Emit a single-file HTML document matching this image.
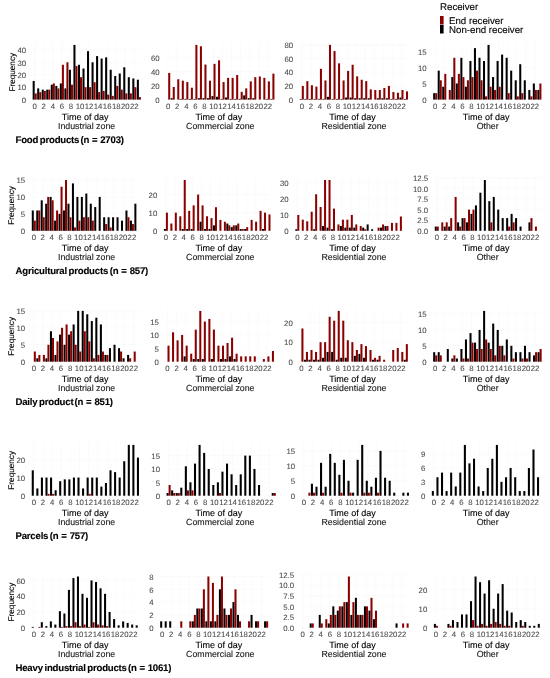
<!DOCTYPE html>
<html><head><meta charset="utf-8"><style>
html,body{margin:0;padding:0;background:#fff;}
svg{display:block;font-family:"Liberation Sans",sans-serif;will-change:transform;}
text{stroke-width:0.12px;text-rendering:geometricPrecision;}
text.tk{stroke-width:0.08px;}
</style></head><body>
<svg width="550" height="678" viewBox="0 0 550 678">
<rect width="550" height="678" fill="#fff"/>
<line x1="31.98" y1="99.60" x2="141.61" y2="99.60" stroke="#f6f6f6" stroke-width="0.5"/>
<line x1="31.98" y1="87.17" x2="141.61" y2="87.17" stroke="#f6f6f6" stroke-width="0.5"/>
<line x1="31.98" y1="74.74" x2="141.61" y2="74.74" stroke="#f6f6f6" stroke-width="0.5"/>
<line x1="31.98" y1="62.30" x2="141.61" y2="62.30" stroke="#f6f6f6" stroke-width="0.5"/>
<line x1="31.98" y1="49.87" x2="141.61" y2="49.87" stroke="#f6f6f6" stroke-width="0.5"/>
<line x1="34.70" y1="42.16" x2="34.70" y2="102.33" stroke="#f6f6f6" stroke-width="0.5"/>
<line x1="43.76" y1="42.16" x2="43.76" y2="102.33" stroke="#f6f6f6" stroke-width="0.5"/>
<line x1="52.82" y1="42.16" x2="52.82" y2="102.33" stroke="#f6f6f6" stroke-width="0.5"/>
<line x1="61.88" y1="42.16" x2="61.88" y2="102.33" stroke="#f6f6f6" stroke-width="0.5"/>
<line x1="70.94" y1="42.16" x2="70.94" y2="102.33" stroke="#f6f6f6" stroke-width="0.5"/>
<line x1="80.00" y1="42.16" x2="80.00" y2="102.33" stroke="#f6f6f6" stroke-width="0.5"/>
<line x1="89.06" y1="42.16" x2="89.06" y2="102.33" stroke="#f6f6f6" stroke-width="0.5"/>
<line x1="98.12" y1="42.16" x2="98.12" y2="102.33" stroke="#f6f6f6" stroke-width="0.5"/>
<line x1="107.18" y1="42.16" x2="107.18" y2="102.33" stroke="#f6f6f6" stroke-width="0.5"/>
<line x1="116.24" y1="42.16" x2="116.24" y2="102.33" stroke="#f6f6f6" stroke-width="0.5"/>
<line x1="125.30" y1="42.16" x2="125.30" y2="102.33" stroke="#f6f6f6" stroke-width="0.5"/>
<line x1="134.36" y1="42.16" x2="134.36" y2="102.33" stroke="#f6f6f6" stroke-width="0.5"/>
<rect x="32.66" y="80.95" width="2.04" height="18.65" fill="#000000"/>
<rect x="34.70" y="93.38" width="2.04" height="6.22" fill="#8b0000"/>
<rect x="37.19" y="88.41" width="2.04" height="11.19" fill="#000000"/>
<rect x="39.23" y="92.14" width="2.04" height="7.46" fill="#8b0000"/>
<rect x="41.72" y="89.65" width="2.04" height="9.95" fill="#000000"/>
<rect x="43.76" y="90.90" width="2.04" height="8.70" fill="#8b0000"/>
<rect x="46.25" y="89.65" width="2.04" height="9.95" fill="#000000"/>
<rect x="48.29" y="89.65" width="2.04" height="9.95" fill="#8b0000"/>
<rect x="50.78" y="84.68" width="2.04" height="14.92" fill="#000000"/>
<rect x="52.82" y="83.44" width="2.04" height="16.16" fill="#8b0000"/>
<rect x="55.31" y="85.92" width="2.04" height="13.68" fill="#000000"/>
<rect x="57.35" y="88.41" width="2.04" height="11.19" fill="#8b0000"/>
<rect x="59.84" y="83.44" width="2.04" height="16.16" fill="#000000"/>
<rect x="61.88" y="64.79" width="2.04" height="34.81" fill="#8b0000"/>
<rect x="64.37" y="88.41" width="2.04" height="11.19" fill="#000000"/>
<rect x="66.41" y="62.30" width="2.04" height="37.30" fill="#8b0000"/>
<rect x="68.90" y="69.76" width="2.04" height="29.84" fill="#000000"/>
<rect x="70.94" y="84.68" width="2.04" height="14.92" fill="#8b0000"/>
<rect x="73.43" y="44.90" width="2.04" height="54.70" fill="#000000"/>
<rect x="75.47" y="66.03" width="2.04" height="33.57" fill="#8b0000"/>
<rect x="77.96" y="64.79" width="2.04" height="34.81" fill="#000000"/>
<rect x="80.00" y="77.22" width="2.04" height="22.38" fill="#8b0000"/>
<rect x="82.49" y="68.52" width="2.04" height="31.08" fill="#000000"/>
<rect x="84.53" y="87.17" width="2.04" height="12.43" fill="#8b0000"/>
<rect x="87.02" y="51.12" width="2.04" height="48.48" fill="#000000"/>
<rect x="89.06" y="87.17" width="2.04" height="12.43" fill="#8b0000"/>
<rect x="91.55" y="62.30" width="2.04" height="37.30" fill="#000000"/>
<rect x="93.59" y="82.20" width="2.04" height="17.40" fill="#8b0000"/>
<rect x="96.08" y="56.09" width="2.04" height="43.51" fill="#000000"/>
<rect x="98.12" y="92.14" width="2.04" height="7.46" fill="#8b0000"/>
<rect x="100.61" y="58.57" width="2.04" height="41.02" fill="#000000"/>
<rect x="102.65" y="90.90" width="2.04" height="8.70" fill="#8b0000"/>
<rect x="105.14" y="57.33" width="2.04" height="42.27" fill="#000000"/>
<rect x="107.18" y="94.63" width="2.04" height="4.97" fill="#8b0000"/>
<rect x="109.67" y="69.76" width="2.04" height="29.84" fill="#000000"/>
<rect x="111.71" y="95.87" width="2.04" height="3.73" fill="#8b0000"/>
<rect x="114.20" y="75.98" width="2.04" height="23.62" fill="#000000"/>
<rect x="116.24" y="85.92" width="2.04" height="13.68" fill="#8b0000"/>
<rect x="118.73" y="73.49" width="2.04" height="26.11" fill="#000000"/>
<rect x="120.77" y="89.65" width="2.04" height="9.95" fill="#8b0000"/>
<rect x="123.26" y="67.28" width="2.04" height="32.32" fill="#000000"/>
<rect x="125.30" y="93.38" width="2.04" height="6.22" fill="#8b0000"/>
<rect x="127.79" y="77.22" width="2.04" height="22.38" fill="#000000"/>
<rect x="129.83" y="93.38" width="2.04" height="6.22" fill="#8b0000"/>
<rect x="132.32" y="78.47" width="2.04" height="21.13" fill="#000000"/>
<rect x="134.36" y="87.17" width="2.04" height="12.43" fill="#8b0000"/>
<rect x="136.85" y="79.71" width="2.04" height="19.89" fill="#000000"/>
<rect x="138.89" y="97.11" width="2.04" height="2.49" fill="#8b0000"/>
<text x="26.10" y="102.80" font-size="7.8" fill="#4d4d4d" stroke="#4d4d4d" text-anchor="end" class="tk">0</text>
<text x="26.10" y="90.37" font-size="7.8" fill="#4d4d4d" stroke="#4d4d4d" text-anchor="end" class="tk">10</text>
<text x="26.10" y="77.94" font-size="7.8" fill="#4d4d4d" stroke="#4d4d4d" text-anchor="end" class="tk">20</text>
<text x="26.10" y="65.50" font-size="7.8" fill="#4d4d4d" stroke="#4d4d4d" text-anchor="end" class="tk">30</text>
<text x="26.10" y="53.07" font-size="7.8" fill="#4d4d4d" stroke="#4d4d4d" text-anchor="end" class="tk">40</text>
<text x="34.70" y="108.60" font-size="7.8" fill="#4d4d4d" stroke="#4d4d4d" text-anchor="middle" class="tk">0</text>
<text x="43.76" y="108.60" font-size="7.8" fill="#4d4d4d" stroke="#4d4d4d" text-anchor="middle" class="tk">2</text>
<text x="52.82" y="108.60" font-size="7.8" fill="#4d4d4d" stroke="#4d4d4d" text-anchor="middle" class="tk">4</text>
<text x="61.88" y="108.60" font-size="7.8" fill="#4d4d4d" stroke="#4d4d4d" text-anchor="middle" class="tk">6</text>
<text x="70.94" y="108.60" font-size="7.8" fill="#4d4d4d" stroke="#4d4d4d" text-anchor="middle" class="tk">8</text>
<text x="80.00" y="108.60" font-size="7.8" fill="#4d4d4d" stroke="#4d4d4d" text-anchor="middle" class="tk">10</text>
<text x="89.06" y="108.60" font-size="7.8" fill="#4d4d4d" stroke="#4d4d4d" text-anchor="middle" class="tk">12</text>
<text x="98.12" y="108.60" font-size="7.8" fill="#4d4d4d" stroke="#4d4d4d" text-anchor="middle" class="tk">14</text>
<text x="107.18" y="108.60" font-size="7.8" fill="#4d4d4d" stroke="#4d4d4d" text-anchor="middle" class="tk">16</text>
<text x="116.24" y="108.60" font-size="7.8" fill="#4d4d4d" stroke="#4d4d4d" text-anchor="middle" class="tk">18</text>
<text x="125.30" y="108.60" font-size="7.8" fill="#4d4d4d" stroke="#4d4d4d" text-anchor="middle" class="tk">20</text>
<text x="134.36" y="108.60" font-size="7.8" fill="#4d4d4d" stroke="#4d4d4d" text-anchor="middle" class="tk">22</text>
<text x="85.10" y="119.50" font-size="9.0" fill="#000" stroke="#000" text-anchor="middle" >Time of day</text>
<text x="86.60" y="129.00" font-size="8.8" fill="#1a1a1a" stroke="#1a1a1a" text-anchor="middle" >Industrial zone</text>
<text x="0" y="0" font-size="8.2" fill="#000" stroke="#000" text-anchor="middle" transform="translate(14.80,72.25) rotate(-90)">Frequency</text>
<line x1="165.48" y1="99.60" x2="275.11" y2="99.60" stroke="#f6f6f6" stroke-width="0.5"/>
<line x1="165.48" y1="85.57" x2="275.11" y2="85.57" stroke="#f6f6f6" stroke-width="0.5"/>
<line x1="165.48" y1="71.55" x2="275.11" y2="71.55" stroke="#f6f6f6" stroke-width="0.5"/>
<line x1="165.48" y1="57.52" x2="275.11" y2="57.52" stroke="#f6f6f6" stroke-width="0.5"/>
<line x1="168.20" y1="42.16" x2="168.20" y2="102.33" stroke="#f6f6f6" stroke-width="0.5"/>
<line x1="177.26" y1="42.16" x2="177.26" y2="102.33" stroke="#f6f6f6" stroke-width="0.5"/>
<line x1="186.32" y1="42.16" x2="186.32" y2="102.33" stroke="#f6f6f6" stroke-width="0.5"/>
<line x1="195.38" y1="42.16" x2="195.38" y2="102.33" stroke="#f6f6f6" stroke-width="0.5"/>
<line x1="204.44" y1="42.16" x2="204.44" y2="102.33" stroke="#f6f6f6" stroke-width="0.5"/>
<line x1="213.50" y1="42.16" x2="213.50" y2="102.33" stroke="#f6f6f6" stroke-width="0.5"/>
<line x1="222.56" y1="42.16" x2="222.56" y2="102.33" stroke="#f6f6f6" stroke-width="0.5"/>
<line x1="231.62" y1="42.16" x2="231.62" y2="102.33" stroke="#f6f6f6" stroke-width="0.5"/>
<line x1="240.68" y1="42.16" x2="240.68" y2="102.33" stroke="#f6f6f6" stroke-width="0.5"/>
<line x1="249.74" y1="42.16" x2="249.74" y2="102.33" stroke="#f6f6f6" stroke-width="0.5"/>
<line x1="258.80" y1="42.16" x2="258.80" y2="102.33" stroke="#f6f6f6" stroke-width="0.5"/>
<line x1="267.86" y1="42.16" x2="267.86" y2="102.33" stroke="#f6f6f6" stroke-width="0.5"/>
<rect x="168.20" y="72.95" width="2.04" height="26.65" fill="#8b0000"/>
<rect x="170.69" y="98.20" width="2.04" height="1.40" fill="#000000"/>
<rect x="172.73" y="86.98" width="2.04" height="12.62" fill="#8b0000"/>
<rect x="177.26" y="79.26" width="2.04" height="20.34" fill="#8b0000"/>
<rect x="179.75" y="98.90" width="2.04" height="0.70" fill="#000000"/>
<rect x="181.79" y="80.67" width="2.04" height="18.93" fill="#8b0000"/>
<rect x="184.28" y="98.90" width="2.04" height="0.70" fill="#000000"/>
<rect x="186.32" y="82.07" width="2.04" height="17.53" fill="#8b0000"/>
<rect x="188.81" y="98.90" width="2.04" height="0.70" fill="#000000"/>
<rect x="190.85" y="87.68" width="2.04" height="11.92" fill="#8b0000"/>
<rect x="193.34" y="98.90" width="2.04" height="0.70" fill="#000000"/>
<rect x="195.38" y="44.90" width="2.04" height="54.70" fill="#8b0000"/>
<rect x="197.87" y="98.20" width="2.04" height="1.40" fill="#000000"/>
<rect x="199.91" y="46.30" width="2.04" height="53.30" fill="#8b0000"/>
<rect x="202.40" y="98.20" width="2.04" height="1.40" fill="#000000"/>
<rect x="204.44" y="64.54" width="2.04" height="35.06" fill="#8b0000"/>
<rect x="206.93" y="98.20" width="2.04" height="1.40" fill="#000000"/>
<rect x="208.97" y="80.67" width="2.04" height="18.93" fill="#8b0000"/>
<rect x="211.46" y="96.09" width="2.04" height="3.51" fill="#000000"/>
<rect x="213.50" y="63.83" width="2.04" height="35.77" fill="#8b0000"/>
<rect x="215.99" y="96.79" width="2.04" height="2.81" fill="#000000"/>
<rect x="218.03" y="60.33" width="2.04" height="39.27" fill="#8b0000"/>
<rect x="220.52" y="98.90" width="2.04" height="0.70" fill="#000000"/>
<rect x="222.56" y="82.07" width="2.04" height="17.53" fill="#8b0000"/>
<rect x="225.05" y="97.50" width="2.04" height="2.10" fill="#000000"/>
<rect x="227.09" y="77.86" width="2.04" height="21.74" fill="#8b0000"/>
<rect x="229.58" y="98.90" width="2.04" height="0.70" fill="#000000"/>
<rect x="231.62" y="77.86" width="2.04" height="21.74" fill="#8b0000"/>
<rect x="234.11" y="98.90" width="2.04" height="0.70" fill="#000000"/>
<rect x="236.15" y="75.06" width="2.04" height="24.54" fill="#8b0000"/>
<rect x="238.64" y="98.90" width="2.04" height="0.70" fill="#000000"/>
<rect x="240.68" y="91.89" width="2.04" height="7.71" fill="#8b0000"/>
<rect x="243.17" y="95.39" width="2.04" height="4.21" fill="#000000"/>
<rect x="245.21" y="88.38" width="2.04" height="11.22" fill="#8b0000"/>
<rect x="247.70" y="98.20" width="2.04" height="1.40" fill="#000000"/>
<rect x="249.74" y="81.37" width="2.04" height="18.23" fill="#8b0000"/>
<rect x="252.23" y="98.20" width="2.04" height="1.40" fill="#000000"/>
<rect x="254.27" y="77.16" width="2.04" height="22.44" fill="#8b0000"/>
<rect x="258.80" y="76.46" width="2.04" height="23.14" fill="#8b0000"/>
<rect x="263.33" y="77.86" width="2.04" height="21.74" fill="#8b0000"/>
<rect x="265.82" y="98.90" width="2.04" height="0.70" fill="#000000"/>
<rect x="267.86" y="81.37" width="2.04" height="18.23" fill="#8b0000"/>
<rect x="270.35" y="98.90" width="2.04" height="0.70" fill="#000000"/>
<rect x="272.39" y="73.65" width="2.04" height="25.95" fill="#8b0000"/>
<text x="159.60" y="102.80" font-size="7.8" fill="#4d4d4d" stroke="#4d4d4d" text-anchor="end" class="tk">0</text>
<text x="159.60" y="88.77" font-size="7.8" fill="#4d4d4d" stroke="#4d4d4d" text-anchor="end" class="tk">20</text>
<text x="159.60" y="74.75" font-size="7.8" fill="#4d4d4d" stroke="#4d4d4d" text-anchor="end" class="tk">40</text>
<text x="159.60" y="60.72" font-size="7.8" fill="#4d4d4d" stroke="#4d4d4d" text-anchor="end" class="tk">60</text>
<text x="168.20" y="108.60" font-size="7.8" fill="#4d4d4d" stroke="#4d4d4d" text-anchor="middle" class="tk">0</text>
<text x="177.26" y="108.60" font-size="7.8" fill="#4d4d4d" stroke="#4d4d4d" text-anchor="middle" class="tk">2</text>
<text x="186.32" y="108.60" font-size="7.8" fill="#4d4d4d" stroke="#4d4d4d" text-anchor="middle" class="tk">4</text>
<text x="195.38" y="108.60" font-size="7.8" fill="#4d4d4d" stroke="#4d4d4d" text-anchor="middle" class="tk">6</text>
<text x="204.44" y="108.60" font-size="7.8" fill="#4d4d4d" stroke="#4d4d4d" text-anchor="middle" class="tk">8</text>
<text x="213.50" y="108.60" font-size="7.8" fill="#4d4d4d" stroke="#4d4d4d" text-anchor="middle" class="tk">10</text>
<text x="222.56" y="108.60" font-size="7.8" fill="#4d4d4d" stroke="#4d4d4d" text-anchor="middle" class="tk">12</text>
<text x="231.62" y="108.60" font-size="7.8" fill="#4d4d4d" stroke="#4d4d4d" text-anchor="middle" class="tk">14</text>
<text x="240.68" y="108.60" font-size="7.8" fill="#4d4d4d" stroke="#4d4d4d" text-anchor="middle" class="tk">16</text>
<text x="249.74" y="108.60" font-size="7.8" fill="#4d4d4d" stroke="#4d4d4d" text-anchor="middle" class="tk">18</text>
<text x="258.80" y="108.60" font-size="7.8" fill="#4d4d4d" stroke="#4d4d4d" text-anchor="middle" class="tk">20</text>
<text x="267.86" y="108.60" font-size="7.8" fill="#4d4d4d" stroke="#4d4d4d" text-anchor="middle" class="tk">22</text>
<text x="218.80" y="119.50" font-size="9.0" fill="#000" stroke="#000" text-anchor="middle" >Time of day</text>
<text x="220.30" y="129.00" font-size="8.8" fill="#1a1a1a" stroke="#1a1a1a" text-anchor="middle" >Commercial zone</text>
<line x1="299.08" y1="99.60" x2="408.71" y2="99.60" stroke="#f6f6f6" stroke-width="0.5"/>
<line x1="299.08" y1="85.92" x2="408.71" y2="85.92" stroke="#f6f6f6" stroke-width="0.5"/>
<line x1="299.08" y1="72.25" x2="408.71" y2="72.25" stroke="#f6f6f6" stroke-width="0.5"/>
<line x1="299.08" y1="58.57" x2="408.71" y2="58.57" stroke="#f6f6f6" stroke-width="0.5"/>
<line x1="299.08" y1="44.90" x2="408.71" y2="44.90" stroke="#f6f6f6" stroke-width="0.5"/>
<line x1="301.80" y1="42.16" x2="301.80" y2="102.33" stroke="#f6f6f6" stroke-width="0.5"/>
<line x1="310.86" y1="42.16" x2="310.86" y2="102.33" stroke="#f6f6f6" stroke-width="0.5"/>
<line x1="319.92" y1="42.16" x2="319.92" y2="102.33" stroke="#f6f6f6" stroke-width="0.5"/>
<line x1="328.98" y1="42.16" x2="328.98" y2="102.33" stroke="#f6f6f6" stroke-width="0.5"/>
<line x1="338.04" y1="42.16" x2="338.04" y2="102.33" stroke="#f6f6f6" stroke-width="0.5"/>
<line x1="347.10" y1="42.16" x2="347.10" y2="102.33" stroke="#f6f6f6" stroke-width="0.5"/>
<line x1="356.16" y1="42.16" x2="356.16" y2="102.33" stroke="#f6f6f6" stroke-width="0.5"/>
<line x1="365.22" y1="42.16" x2="365.22" y2="102.33" stroke="#f6f6f6" stroke-width="0.5"/>
<line x1="374.28" y1="42.16" x2="374.28" y2="102.33" stroke="#f6f6f6" stroke-width="0.5"/>
<line x1="383.34" y1="42.16" x2="383.34" y2="102.33" stroke="#f6f6f6" stroke-width="0.5"/>
<line x1="392.40" y1="42.16" x2="392.40" y2="102.33" stroke="#f6f6f6" stroke-width="0.5"/>
<line x1="401.46" y1="42.16" x2="401.46" y2="102.33" stroke="#f6f6f6" stroke-width="0.5"/>
<rect x="299.76" y="98.92" width="2.04" height="0.68" fill="#000000"/>
<rect x="301.80" y="85.92" width="2.04" height="13.68" fill="#8b0000"/>
<rect x="304.29" y="98.92" width="2.04" height="0.68" fill="#000000"/>
<rect x="306.33" y="81.14" width="2.04" height="18.46" fill="#8b0000"/>
<rect x="308.82" y="98.92" width="2.04" height="0.68" fill="#000000"/>
<rect x="310.86" y="85.24" width="2.04" height="14.36" fill="#8b0000"/>
<rect x="313.35" y="98.92" width="2.04" height="0.68" fill="#000000"/>
<rect x="315.39" y="86.61" width="2.04" height="12.99" fill="#8b0000"/>
<rect x="317.88" y="98.92" width="2.04" height="0.68" fill="#000000"/>
<rect x="319.92" y="68.83" width="2.04" height="30.77" fill="#8b0000"/>
<rect x="322.41" y="98.92" width="2.04" height="0.68" fill="#000000"/>
<rect x="324.45" y="80.45" width="2.04" height="19.15" fill="#8b0000"/>
<rect x="326.94" y="96.86" width="2.04" height="2.74" fill="#000000"/>
<rect x="328.98" y="44.90" width="2.04" height="54.70" fill="#8b0000"/>
<rect x="331.47" y="98.92" width="2.04" height="0.68" fill="#000000"/>
<rect x="333.51" y="51.05" width="2.04" height="48.55" fill="#8b0000"/>
<rect x="336.00" y="98.92" width="2.04" height="0.68" fill="#000000"/>
<rect x="338.04" y="63.36" width="2.04" height="36.24" fill="#8b0000"/>
<rect x="340.53" y="98.92" width="2.04" height="0.68" fill="#000000"/>
<rect x="342.57" y="80.45" width="2.04" height="19.15" fill="#8b0000"/>
<rect x="345.06" y="97.55" width="2.04" height="2.05" fill="#000000"/>
<rect x="347.10" y="70.88" width="2.04" height="28.72" fill="#8b0000"/>
<rect x="349.59" y="97.55" width="2.04" height="2.05" fill="#000000"/>
<rect x="351.63" y="64.73" width="2.04" height="34.87" fill="#8b0000"/>
<rect x="354.12" y="98.23" width="2.04" height="1.37" fill="#000000"/>
<rect x="356.16" y="76.35" width="2.04" height="23.25" fill="#8b0000"/>
<rect x="358.65" y="98.23" width="2.04" height="1.37" fill="#000000"/>
<rect x="360.69" y="79.77" width="2.04" height="19.83" fill="#8b0000"/>
<rect x="363.18" y="98.23" width="2.04" height="1.37" fill="#000000"/>
<rect x="365.22" y="81.14" width="2.04" height="18.46" fill="#8b0000"/>
<rect x="367.71" y="98.23" width="2.04" height="1.37" fill="#000000"/>
<rect x="369.75" y="89.34" width="2.04" height="10.26" fill="#8b0000"/>
<rect x="374.28" y="90.03" width="2.04" height="9.57" fill="#8b0000"/>
<rect x="376.77" y="98.23" width="2.04" height="1.37" fill="#000000"/>
<rect x="378.81" y="90.03" width="2.04" height="9.57" fill="#8b0000"/>
<rect x="381.30" y="98.23" width="2.04" height="1.37" fill="#000000"/>
<rect x="383.34" y="87.98" width="2.04" height="11.62" fill="#8b0000"/>
<rect x="385.83" y="98.23" width="2.04" height="1.37" fill="#000000"/>
<rect x="387.87" y="85.92" width="2.04" height="13.68" fill="#8b0000"/>
<rect x="390.36" y="98.92" width="2.04" height="0.68" fill="#000000"/>
<rect x="392.40" y="92.08" width="2.04" height="7.52" fill="#8b0000"/>
<rect x="394.89" y="98.92" width="2.04" height="0.68" fill="#000000"/>
<rect x="396.93" y="92.76" width="2.04" height="6.84" fill="#8b0000"/>
<rect x="399.42" y="97.55" width="2.04" height="2.05" fill="#000000"/>
<rect x="401.46" y="90.03" width="2.04" height="9.57" fill="#8b0000"/>
<rect x="403.95" y="98.92" width="2.04" height="0.68" fill="#000000"/>
<rect x="405.99" y="91.39" width="2.04" height="8.21" fill="#8b0000"/>
<text x="293.20" y="102.80" font-size="7.8" fill="#4d4d4d" stroke="#4d4d4d" text-anchor="end" class="tk">0</text>
<text x="293.20" y="89.12" font-size="7.8" fill="#4d4d4d" stroke="#4d4d4d" text-anchor="end" class="tk">20</text>
<text x="293.20" y="75.45" font-size="7.8" fill="#4d4d4d" stroke="#4d4d4d" text-anchor="end" class="tk">40</text>
<text x="293.20" y="61.77" font-size="7.8" fill="#4d4d4d" stroke="#4d4d4d" text-anchor="end" class="tk">60</text>
<text x="293.20" y="48.10" font-size="7.8" fill="#4d4d4d" stroke="#4d4d4d" text-anchor="end" class="tk">80</text>
<text x="301.80" y="108.60" font-size="7.8" fill="#4d4d4d" stroke="#4d4d4d" text-anchor="middle" class="tk">0</text>
<text x="310.86" y="108.60" font-size="7.8" fill="#4d4d4d" stroke="#4d4d4d" text-anchor="middle" class="tk">2</text>
<text x="319.92" y="108.60" font-size="7.8" fill="#4d4d4d" stroke="#4d4d4d" text-anchor="middle" class="tk">4</text>
<text x="328.98" y="108.60" font-size="7.8" fill="#4d4d4d" stroke="#4d4d4d" text-anchor="middle" class="tk">6</text>
<text x="338.04" y="108.60" font-size="7.8" fill="#4d4d4d" stroke="#4d4d4d" text-anchor="middle" class="tk">8</text>
<text x="347.10" y="108.60" font-size="7.8" fill="#4d4d4d" stroke="#4d4d4d" text-anchor="middle" class="tk">10</text>
<text x="356.16" y="108.60" font-size="7.8" fill="#4d4d4d" stroke="#4d4d4d" text-anchor="middle" class="tk">12</text>
<text x="365.22" y="108.60" font-size="7.8" fill="#4d4d4d" stroke="#4d4d4d" text-anchor="middle" class="tk">14</text>
<text x="374.28" y="108.60" font-size="7.8" fill="#4d4d4d" stroke="#4d4d4d" text-anchor="middle" class="tk">16</text>
<text x="383.34" y="108.60" font-size="7.8" fill="#4d4d4d" stroke="#4d4d4d" text-anchor="middle" class="tk">18</text>
<text x="392.40" y="108.60" font-size="7.8" fill="#4d4d4d" stroke="#4d4d4d" text-anchor="middle" class="tk">20</text>
<text x="401.46" y="108.60" font-size="7.8" fill="#4d4d4d" stroke="#4d4d4d" text-anchor="middle" class="tk">22</text>
<text x="352.50" y="119.50" font-size="9.0" fill="#000" stroke="#000" text-anchor="middle" >Time of day</text>
<text x="354.00" y="129.00" font-size="8.8" fill="#1a1a1a" stroke="#1a1a1a" text-anchor="middle" >Residential zone</text>
<line x1="432.48" y1="99.60" x2="542.11" y2="99.60" stroke="#f6f6f6" stroke-width="0.5"/>
<line x1="432.48" y1="83.51" x2="542.11" y2="83.51" stroke="#f6f6f6" stroke-width="0.5"/>
<line x1="432.48" y1="67.42" x2="542.11" y2="67.42" stroke="#f6f6f6" stroke-width="0.5"/>
<line x1="432.48" y1="51.34" x2="542.11" y2="51.34" stroke="#f6f6f6" stroke-width="0.5"/>
<line x1="435.20" y1="42.16" x2="435.20" y2="102.33" stroke="#f6f6f6" stroke-width="0.5"/>
<line x1="444.26" y1="42.16" x2="444.26" y2="102.33" stroke="#f6f6f6" stroke-width="0.5"/>
<line x1="453.32" y1="42.16" x2="453.32" y2="102.33" stroke="#f6f6f6" stroke-width="0.5"/>
<line x1="462.38" y1="42.16" x2="462.38" y2="102.33" stroke="#f6f6f6" stroke-width="0.5"/>
<line x1="471.44" y1="42.16" x2="471.44" y2="102.33" stroke="#f6f6f6" stroke-width="0.5"/>
<line x1="480.50" y1="42.16" x2="480.50" y2="102.33" stroke="#f6f6f6" stroke-width="0.5"/>
<line x1="489.56" y1="42.16" x2="489.56" y2="102.33" stroke="#f6f6f6" stroke-width="0.5"/>
<line x1="498.62" y1="42.16" x2="498.62" y2="102.33" stroke="#f6f6f6" stroke-width="0.5"/>
<line x1="507.68" y1="42.16" x2="507.68" y2="102.33" stroke="#f6f6f6" stroke-width="0.5"/>
<line x1="516.74" y1="42.16" x2="516.74" y2="102.33" stroke="#f6f6f6" stroke-width="0.5"/>
<line x1="525.80" y1="42.16" x2="525.80" y2="102.33" stroke="#f6f6f6" stroke-width="0.5"/>
<line x1="534.86" y1="42.16" x2="534.86" y2="102.33" stroke="#f6f6f6" stroke-width="0.5"/>
<rect x="433.16" y="93.16" width="2.04" height="6.44" fill="#000000"/>
<rect x="435.20" y="93.16" width="2.04" height="6.44" fill="#8b0000"/>
<rect x="437.69" y="70.64" width="2.04" height="28.96" fill="#000000"/>
<rect x="439.73" y="80.29" width="2.04" height="19.31" fill="#8b0000"/>
<rect x="442.22" y="86.73" width="2.04" height="12.87" fill="#000000"/>
<rect x="444.26" y="73.86" width="2.04" height="25.74" fill="#8b0000"/>
<rect x="448.79" y="89.95" width="2.04" height="9.65" fill="#8b0000"/>
<rect x="451.28" y="77.08" width="2.04" height="22.52" fill="#000000"/>
<rect x="453.32" y="57.77" width="2.04" height="41.83" fill="#8b0000"/>
<rect x="455.81" y="83.51" width="2.04" height="16.09" fill="#000000"/>
<rect x="457.85" y="73.86" width="2.04" height="25.74" fill="#8b0000"/>
<rect x="460.34" y="57.77" width="2.04" height="41.83" fill="#000000"/>
<rect x="462.38" y="77.08" width="2.04" height="22.52" fill="#8b0000"/>
<rect x="464.87" y="86.73" width="2.04" height="12.87" fill="#000000"/>
<rect x="466.91" y="80.29" width="2.04" height="19.31" fill="#8b0000"/>
<rect x="469.40" y="60.99" width="2.04" height="38.61" fill="#000000"/>
<rect x="471.44" y="77.08" width="2.04" height="22.52" fill="#8b0000"/>
<rect x="473.93" y="48.12" width="2.04" height="51.48" fill="#000000"/>
<rect x="475.97" y="70.64" width="2.04" height="28.96" fill="#8b0000"/>
<rect x="478.46" y="57.77" width="2.04" height="41.83" fill="#000000"/>
<rect x="480.50" y="80.29" width="2.04" height="19.31" fill="#8b0000"/>
<rect x="482.99" y="60.99" width="2.04" height="38.61" fill="#000000"/>
<rect x="485.03" y="96.38" width="2.04" height="3.22" fill="#8b0000"/>
<rect x="487.52" y="44.90" width="2.04" height="54.70" fill="#000000"/>
<rect x="489.56" y="86.73" width="2.04" height="12.87" fill="#8b0000"/>
<rect x="492.05" y="77.08" width="2.04" height="22.52" fill="#000000"/>
<rect x="494.09" y="89.95" width="2.04" height="9.65" fill="#8b0000"/>
<rect x="496.58" y="60.99" width="2.04" height="38.61" fill="#000000"/>
<rect x="498.62" y="86.73" width="2.04" height="12.87" fill="#8b0000"/>
<rect x="501.11" y="54.55" width="2.04" height="45.05" fill="#000000"/>
<rect x="505.64" y="57.77" width="2.04" height="41.83" fill="#000000"/>
<rect x="507.68" y="93.16" width="2.04" height="6.44" fill="#8b0000"/>
<rect x="510.17" y="70.64" width="2.04" height="28.96" fill="#000000"/>
<rect x="514.70" y="80.29" width="2.04" height="19.31" fill="#000000"/>
<rect x="516.74" y="96.38" width="2.04" height="3.22" fill="#8b0000"/>
<rect x="519.23" y="64.21" width="2.04" height="35.39" fill="#000000"/>
<rect x="521.27" y="93.16" width="2.04" height="6.44" fill="#8b0000"/>
<rect x="523.76" y="80.29" width="2.04" height="19.31" fill="#000000"/>
<rect x="528.29" y="89.95" width="2.04" height="9.65" fill="#000000"/>
<rect x="530.33" y="96.38" width="2.04" height="3.22" fill="#8b0000"/>
<rect x="532.82" y="83.51" width="2.04" height="16.09" fill="#000000"/>
<rect x="534.86" y="89.95" width="2.04" height="9.65" fill="#8b0000"/>
<rect x="537.35" y="89.95" width="2.04" height="9.65" fill="#000000"/>
<rect x="539.39" y="83.51" width="2.04" height="16.09" fill="#8b0000"/>
<text x="426.60" y="102.80" font-size="7.8" fill="#4d4d4d" stroke="#4d4d4d" text-anchor="end" class="tk">0</text>
<text x="426.60" y="86.71" font-size="7.8" fill="#4d4d4d" stroke="#4d4d4d" text-anchor="end" class="tk">5</text>
<text x="426.60" y="70.62" font-size="7.8" fill="#4d4d4d" stroke="#4d4d4d" text-anchor="end" class="tk">10</text>
<text x="426.60" y="54.54" font-size="7.8" fill="#4d4d4d" stroke="#4d4d4d" text-anchor="end" class="tk">15</text>
<text x="435.20" y="108.60" font-size="7.8" fill="#4d4d4d" stroke="#4d4d4d" text-anchor="middle" class="tk">0</text>
<text x="444.26" y="108.60" font-size="7.8" fill="#4d4d4d" stroke="#4d4d4d" text-anchor="middle" class="tk">2</text>
<text x="453.32" y="108.60" font-size="7.8" fill="#4d4d4d" stroke="#4d4d4d" text-anchor="middle" class="tk">4</text>
<text x="462.38" y="108.60" font-size="7.8" fill="#4d4d4d" stroke="#4d4d4d" text-anchor="middle" class="tk">6</text>
<text x="471.44" y="108.60" font-size="7.8" fill="#4d4d4d" stroke="#4d4d4d" text-anchor="middle" class="tk">8</text>
<text x="480.50" y="108.60" font-size="7.8" fill="#4d4d4d" stroke="#4d4d4d" text-anchor="middle" class="tk">10</text>
<text x="489.56" y="108.60" font-size="7.8" fill="#4d4d4d" stroke="#4d4d4d" text-anchor="middle" class="tk">12</text>
<text x="498.62" y="108.60" font-size="7.8" fill="#4d4d4d" stroke="#4d4d4d" text-anchor="middle" class="tk">14</text>
<text x="507.68" y="108.60" font-size="7.8" fill="#4d4d4d" stroke="#4d4d4d" text-anchor="middle" class="tk">16</text>
<text x="516.74" y="108.60" font-size="7.8" fill="#4d4d4d" stroke="#4d4d4d" text-anchor="middle" class="tk">18</text>
<text x="525.80" y="108.60" font-size="7.8" fill="#4d4d4d" stroke="#4d4d4d" text-anchor="middle" class="tk">20</text>
<text x="534.86" y="108.60" font-size="7.8" fill="#4d4d4d" stroke="#4d4d4d" text-anchor="middle" class="tk">22</text>
<text x="486.20" y="119.50" font-size="9.0" fill="#000" stroke="#000" text-anchor="middle" >Time of day</text>
<text x="487.70" y="129.00" font-size="8.8" fill="#1a1a1a" stroke="#1a1a1a" text-anchor="middle" >Other</text>
<line x1="31.12" y1="230.80" x2="139.06" y2="230.80" stroke="#f6f6f6" stroke-width="0.5"/>
<line x1="31.12" y1="213.87" x2="139.06" y2="213.87" stroke="#f6f6f6" stroke-width="0.5"/>
<line x1="31.12" y1="196.93" x2="139.06" y2="196.93" stroke="#f6f6f6" stroke-width="0.5"/>
<line x1="31.12" y1="180.00" x2="139.06" y2="180.00" stroke="#f6f6f6" stroke-width="0.5"/>
<line x1="33.80" y1="177.46" x2="33.80" y2="233.34" stroke="#f6f6f6" stroke-width="0.5"/>
<line x1="42.72" y1="177.46" x2="42.72" y2="233.34" stroke="#f6f6f6" stroke-width="0.5"/>
<line x1="51.64" y1="177.46" x2="51.64" y2="233.34" stroke="#f6f6f6" stroke-width="0.5"/>
<line x1="60.56" y1="177.46" x2="60.56" y2="233.34" stroke="#f6f6f6" stroke-width="0.5"/>
<line x1="69.48" y1="177.46" x2="69.48" y2="233.34" stroke="#f6f6f6" stroke-width="0.5"/>
<line x1="78.40" y1="177.46" x2="78.40" y2="233.34" stroke="#f6f6f6" stroke-width="0.5"/>
<line x1="87.32" y1="177.46" x2="87.32" y2="233.34" stroke="#f6f6f6" stroke-width="0.5"/>
<line x1="96.24" y1="177.46" x2="96.24" y2="233.34" stroke="#f6f6f6" stroke-width="0.5"/>
<line x1="105.16" y1="177.46" x2="105.16" y2="233.34" stroke="#f6f6f6" stroke-width="0.5"/>
<line x1="114.08" y1="177.46" x2="114.08" y2="233.34" stroke="#f6f6f6" stroke-width="0.5"/>
<line x1="123.00" y1="177.46" x2="123.00" y2="233.34" stroke="#f6f6f6" stroke-width="0.5"/>
<line x1="131.92" y1="177.46" x2="131.92" y2="233.34" stroke="#f6f6f6" stroke-width="0.5"/>
<rect x="31.79" y="210.48" width="2.01" height="20.32" fill="#000000"/>
<rect x="33.80" y="220.64" width="2.01" height="10.16" fill="#8b0000"/>
<rect x="36.25" y="210.48" width="2.01" height="20.32" fill="#000000"/>
<rect x="38.26" y="210.48" width="2.01" height="20.32" fill="#8b0000"/>
<rect x="40.71" y="200.32" width="2.01" height="30.48" fill="#000000"/>
<rect x="42.72" y="217.25" width="2.01" height="13.55" fill="#8b0000"/>
<rect x="45.17" y="203.71" width="2.01" height="27.09" fill="#000000"/>
<rect x="47.18" y="196.93" width="2.01" height="33.87" fill="#8b0000"/>
<rect x="49.63" y="196.93" width="2.01" height="33.87" fill="#000000"/>
<rect x="51.64" y="200.32" width="2.01" height="30.48" fill="#8b0000"/>
<rect x="54.09" y="220.64" width="2.01" height="10.16" fill="#000000"/>
<rect x="56.10" y="210.48" width="2.01" height="20.32" fill="#8b0000"/>
<rect x="58.55" y="213.87" width="2.01" height="16.93" fill="#000000"/>
<rect x="60.56" y="186.77" width="2.01" height="44.03" fill="#8b0000"/>
<rect x="63.01" y="210.48" width="2.01" height="20.32" fill="#000000"/>
<rect x="65.02" y="180.00" width="2.01" height="50.80" fill="#8b0000"/>
<rect x="67.47" y="203.71" width="2.01" height="27.09" fill="#000000"/>
<rect x="69.48" y="217.25" width="2.01" height="13.55" fill="#8b0000"/>
<rect x="71.93" y="183.39" width="2.01" height="47.41" fill="#000000"/>
<rect x="73.94" y="227.41" width="2.01" height="3.39" fill="#8b0000"/>
<rect x="76.39" y="196.93" width="2.01" height="33.87" fill="#000000"/>
<rect x="78.40" y="220.64" width="2.01" height="10.16" fill="#8b0000"/>
<rect x="80.85" y="196.93" width="2.01" height="33.87" fill="#000000"/>
<rect x="82.86" y="217.25" width="2.01" height="13.55" fill="#8b0000"/>
<rect x="85.31" y="193.55" width="2.01" height="37.25" fill="#000000"/>
<rect x="87.32" y="217.25" width="2.01" height="13.55" fill="#8b0000"/>
<rect x="89.77" y="203.71" width="2.01" height="27.09" fill="#000000"/>
<rect x="91.78" y="220.64" width="2.01" height="10.16" fill="#8b0000"/>
<rect x="94.23" y="207.09" width="2.01" height="23.71" fill="#000000"/>
<rect x="98.69" y="196.93" width="2.01" height="33.87" fill="#000000"/>
<rect x="103.15" y="217.25" width="2.01" height="13.55" fill="#000000"/>
<rect x="105.16" y="224.03" width="2.01" height="6.77" fill="#8b0000"/>
<rect x="107.61" y="217.25" width="2.01" height="13.55" fill="#000000"/>
<rect x="109.62" y="227.41" width="2.01" height="3.39" fill="#8b0000"/>
<rect x="112.07" y="217.25" width="2.01" height="13.55" fill="#000000"/>
<rect x="116.53" y="217.25" width="2.01" height="13.55" fill="#000000"/>
<rect x="120.99" y="220.64" width="2.01" height="10.16" fill="#000000"/>
<rect x="125.45" y="210.48" width="2.01" height="20.32" fill="#000000"/>
<rect x="127.46" y="217.25" width="2.01" height="13.55" fill="#8b0000"/>
<rect x="129.91" y="220.64" width="2.01" height="10.16" fill="#000000"/>
<rect x="131.92" y="224.03" width="2.01" height="6.77" fill="#8b0000"/>
<rect x="134.37" y="203.71" width="2.01" height="27.09" fill="#000000"/>
<text x="25.20" y="234.00" font-size="7.8" fill="#4d4d4d" stroke="#4d4d4d" text-anchor="end" class="tk">0</text>
<text x="25.20" y="217.07" font-size="7.8" fill="#4d4d4d" stroke="#4d4d4d" text-anchor="end" class="tk">5</text>
<text x="25.20" y="200.13" font-size="7.8" fill="#4d4d4d" stroke="#4d4d4d" text-anchor="end" class="tk">10</text>
<text x="25.20" y="183.20" font-size="7.8" fill="#4d4d4d" stroke="#4d4d4d" text-anchor="end" class="tk">15</text>
<text x="33.80" y="239.80" font-size="7.8" fill="#4d4d4d" stroke="#4d4d4d" text-anchor="middle" class="tk">0</text>
<text x="42.72" y="239.80" font-size="7.8" fill="#4d4d4d" stroke="#4d4d4d" text-anchor="middle" class="tk">2</text>
<text x="51.64" y="239.80" font-size="7.8" fill="#4d4d4d" stroke="#4d4d4d" text-anchor="middle" class="tk">4</text>
<text x="60.56" y="239.80" font-size="7.8" fill="#4d4d4d" stroke="#4d4d4d" text-anchor="middle" class="tk">6</text>
<text x="69.48" y="239.80" font-size="7.8" fill="#4d4d4d" stroke="#4d4d4d" text-anchor="middle" class="tk">8</text>
<text x="78.40" y="239.80" font-size="7.8" fill="#4d4d4d" stroke="#4d4d4d" text-anchor="middle" class="tk">10</text>
<text x="87.32" y="239.80" font-size="7.8" fill="#4d4d4d" stroke="#4d4d4d" text-anchor="middle" class="tk">12</text>
<text x="96.24" y="239.80" font-size="7.8" fill="#4d4d4d" stroke="#4d4d4d" text-anchor="middle" class="tk">14</text>
<text x="105.16" y="239.80" font-size="7.8" fill="#4d4d4d" stroke="#4d4d4d" text-anchor="middle" class="tk">16</text>
<text x="114.08" y="239.80" font-size="7.8" fill="#4d4d4d" stroke="#4d4d4d" text-anchor="middle" class="tk">18</text>
<text x="123.00" y="239.80" font-size="7.8" fill="#4d4d4d" stroke="#4d4d4d" text-anchor="middle" class="tk">20</text>
<text x="131.92" y="239.80" font-size="7.8" fill="#4d4d4d" stroke="#4d4d4d" text-anchor="middle" class="tk">22</text>
<text x="85.10" y="250.70" font-size="9.0" fill="#000" stroke="#000" text-anchor="middle" >Time of day</text>
<text x="86.60" y="260.20" font-size="8.8" fill="#1a1a1a" stroke="#1a1a1a" text-anchor="middle" >Industrial zone</text>
<text x="0" y="0" font-size="8.2" fill="#000" stroke="#000" text-anchor="middle" transform="translate(13.90,205.40) rotate(-90)">Frequency</text>
<line x1="163.22" y1="230.80" x2="271.16" y2="230.80" stroke="#f6f6f6" stroke-width="0.5"/>
<line x1="163.22" y1="212.66" x2="271.16" y2="212.66" stroke="#f6f6f6" stroke-width="0.5"/>
<line x1="163.22" y1="194.51" x2="271.16" y2="194.51" stroke="#f6f6f6" stroke-width="0.5"/>
<line x1="165.90" y1="177.46" x2="165.90" y2="233.34" stroke="#f6f6f6" stroke-width="0.5"/>
<line x1="174.82" y1="177.46" x2="174.82" y2="233.34" stroke="#f6f6f6" stroke-width="0.5"/>
<line x1="183.74" y1="177.46" x2="183.74" y2="233.34" stroke="#f6f6f6" stroke-width="0.5"/>
<line x1="192.66" y1="177.46" x2="192.66" y2="233.34" stroke="#f6f6f6" stroke-width="0.5"/>
<line x1="201.58" y1="177.46" x2="201.58" y2="233.34" stroke="#f6f6f6" stroke-width="0.5"/>
<line x1="210.50" y1="177.46" x2="210.50" y2="233.34" stroke="#f6f6f6" stroke-width="0.5"/>
<line x1="219.42" y1="177.46" x2="219.42" y2="233.34" stroke="#f6f6f6" stroke-width="0.5"/>
<line x1="228.34" y1="177.46" x2="228.34" y2="233.34" stroke="#f6f6f6" stroke-width="0.5"/>
<line x1="237.26" y1="177.46" x2="237.26" y2="233.34" stroke="#f6f6f6" stroke-width="0.5"/>
<line x1="246.18" y1="177.46" x2="246.18" y2="233.34" stroke="#f6f6f6" stroke-width="0.5"/>
<line x1="255.10" y1="177.46" x2="255.10" y2="233.34" stroke="#f6f6f6" stroke-width="0.5"/>
<line x1="264.02" y1="177.46" x2="264.02" y2="233.34" stroke="#f6f6f6" stroke-width="0.5"/>
<rect x="163.89" y="228.99" width="2.01" height="1.81" fill="#000000"/>
<rect x="165.90" y="212.66" width="2.01" height="18.14" fill="#8b0000"/>
<rect x="170.36" y="223.54" width="2.01" height="7.26" fill="#8b0000"/>
<rect x="174.82" y="212.66" width="2.01" height="18.14" fill="#8b0000"/>
<rect x="179.28" y="216.29" width="2.01" height="14.51" fill="#8b0000"/>
<rect x="181.73" y="228.99" width="2.01" height="1.81" fill="#000000"/>
<rect x="183.74" y="180.00" width="2.01" height="50.80" fill="#8b0000"/>
<rect x="186.19" y="228.99" width="2.01" height="1.81" fill="#000000"/>
<rect x="188.20" y="210.84" width="2.01" height="19.96" fill="#8b0000"/>
<rect x="190.65" y="228.99" width="2.01" height="1.81" fill="#000000"/>
<rect x="192.66" y="205.40" width="2.01" height="25.40" fill="#8b0000"/>
<rect x="197.12" y="194.51" width="2.01" height="36.29" fill="#8b0000"/>
<rect x="199.57" y="221.73" width="2.01" height="9.07" fill="#000000"/>
<rect x="201.58" y="205.40" width="2.01" height="25.40" fill="#8b0000"/>
<rect x="204.03" y="228.99" width="2.01" height="1.81" fill="#000000"/>
<rect x="206.04" y="216.29" width="2.01" height="14.51" fill="#8b0000"/>
<rect x="208.49" y="228.99" width="2.01" height="1.81" fill="#000000"/>
<rect x="210.50" y="218.10" width="2.01" height="12.70" fill="#8b0000"/>
<rect x="212.95" y="225.36" width="2.01" height="5.44" fill="#000000"/>
<rect x="214.96" y="207.21" width="2.01" height="23.59" fill="#8b0000"/>
<rect x="219.42" y="219.91" width="2.01" height="10.89" fill="#8b0000"/>
<rect x="223.88" y="221.73" width="2.01" height="9.07" fill="#8b0000"/>
<rect x="226.33" y="223.54" width="2.01" height="7.26" fill="#000000"/>
<rect x="228.34" y="225.36" width="2.01" height="5.44" fill="#8b0000"/>
<rect x="230.79" y="227.17" width="2.01" height="3.63" fill="#000000"/>
<rect x="232.80" y="225.36" width="2.01" height="5.44" fill="#8b0000"/>
<rect x="235.25" y="225.36" width="2.01" height="5.44" fill="#000000"/>
<rect x="237.26" y="223.54" width="2.01" height="7.26" fill="#8b0000"/>
<rect x="239.71" y="228.99" width="2.01" height="1.81" fill="#000000"/>
<rect x="241.72" y="228.99" width="2.01" height="1.81" fill="#8b0000"/>
<rect x="244.17" y="228.99" width="2.01" height="1.81" fill="#000000"/>
<rect x="246.18" y="227.17" width="2.01" height="3.63" fill="#8b0000"/>
<rect x="250.64" y="219.91" width="2.01" height="10.89" fill="#8b0000"/>
<rect x="255.10" y="221.73" width="2.01" height="9.07" fill="#8b0000"/>
<rect x="259.56" y="210.84" width="2.01" height="19.96" fill="#8b0000"/>
<rect x="262.01" y="228.99" width="2.01" height="1.81" fill="#000000"/>
<rect x="264.02" y="212.66" width="2.01" height="18.14" fill="#8b0000"/>
<rect x="268.48" y="214.47" width="2.01" height="16.33" fill="#8b0000"/>
<text x="157.30" y="234.00" font-size="7.8" fill="#4d4d4d" stroke="#4d4d4d" text-anchor="end" class="tk">0</text>
<text x="157.30" y="215.86" font-size="7.8" fill="#4d4d4d" stroke="#4d4d4d" text-anchor="end" class="tk">10</text>
<text x="157.30" y="197.71" font-size="7.8" fill="#4d4d4d" stroke="#4d4d4d" text-anchor="end" class="tk">20</text>
<text x="165.90" y="239.80" font-size="7.8" fill="#4d4d4d" stroke="#4d4d4d" text-anchor="middle" class="tk">0</text>
<text x="174.82" y="239.80" font-size="7.8" fill="#4d4d4d" stroke="#4d4d4d" text-anchor="middle" class="tk">2</text>
<text x="183.74" y="239.80" font-size="7.8" fill="#4d4d4d" stroke="#4d4d4d" text-anchor="middle" class="tk">4</text>
<text x="192.66" y="239.80" font-size="7.8" fill="#4d4d4d" stroke="#4d4d4d" text-anchor="middle" class="tk">6</text>
<text x="201.58" y="239.80" font-size="7.8" fill="#4d4d4d" stroke="#4d4d4d" text-anchor="middle" class="tk">8</text>
<text x="210.50" y="239.80" font-size="7.8" fill="#4d4d4d" stroke="#4d4d4d" text-anchor="middle" class="tk">10</text>
<text x="219.42" y="239.80" font-size="7.8" fill="#4d4d4d" stroke="#4d4d4d" text-anchor="middle" class="tk">12</text>
<text x="228.34" y="239.80" font-size="7.8" fill="#4d4d4d" stroke="#4d4d4d" text-anchor="middle" class="tk">14</text>
<text x="237.26" y="239.80" font-size="7.8" fill="#4d4d4d" stroke="#4d4d4d" text-anchor="middle" class="tk">16</text>
<text x="246.18" y="239.80" font-size="7.8" fill="#4d4d4d" stroke="#4d4d4d" text-anchor="middle" class="tk">18</text>
<text x="255.10" y="239.80" font-size="7.8" fill="#4d4d4d" stroke="#4d4d4d" text-anchor="middle" class="tk">20</text>
<text x="264.02" y="239.80" font-size="7.8" fill="#4d4d4d" stroke="#4d4d4d" text-anchor="middle" class="tk">22</text>
<text x="218.80" y="250.70" font-size="9.0" fill="#000" stroke="#000" text-anchor="middle" >Time of day</text>
<text x="220.30" y="260.20" font-size="8.8" fill="#1a1a1a" stroke="#1a1a1a" text-anchor="middle" >Commercial zone</text>
<line x1="294.62" y1="230.80" x2="402.56" y2="230.80" stroke="#f6f6f6" stroke-width="0.5"/>
<line x1="294.62" y1="214.93" x2="402.56" y2="214.93" stroke="#f6f6f6" stroke-width="0.5"/>
<line x1="294.62" y1="199.05" x2="402.56" y2="199.05" stroke="#f6f6f6" stroke-width="0.5"/>
<line x1="294.62" y1="183.18" x2="402.56" y2="183.18" stroke="#f6f6f6" stroke-width="0.5"/>
<line x1="297.30" y1="177.46" x2="297.30" y2="233.34" stroke="#f6f6f6" stroke-width="0.5"/>
<line x1="306.22" y1="177.46" x2="306.22" y2="233.34" stroke="#f6f6f6" stroke-width="0.5"/>
<line x1="315.14" y1="177.46" x2="315.14" y2="233.34" stroke="#f6f6f6" stroke-width="0.5"/>
<line x1="324.06" y1="177.46" x2="324.06" y2="233.34" stroke="#f6f6f6" stroke-width="0.5"/>
<line x1="332.98" y1="177.46" x2="332.98" y2="233.34" stroke="#f6f6f6" stroke-width="0.5"/>
<line x1="341.90" y1="177.46" x2="341.90" y2="233.34" stroke="#f6f6f6" stroke-width="0.5"/>
<line x1="350.82" y1="177.46" x2="350.82" y2="233.34" stroke="#f6f6f6" stroke-width="0.5"/>
<line x1="359.74" y1="177.46" x2="359.74" y2="233.34" stroke="#f6f6f6" stroke-width="0.5"/>
<line x1="368.66" y1="177.46" x2="368.66" y2="233.34" stroke="#f6f6f6" stroke-width="0.5"/>
<line x1="377.58" y1="177.46" x2="377.58" y2="233.34" stroke="#f6f6f6" stroke-width="0.5"/>
<line x1="386.50" y1="177.46" x2="386.50" y2="233.34" stroke="#f6f6f6" stroke-width="0.5"/>
<line x1="395.42" y1="177.46" x2="395.42" y2="233.34" stroke="#f6f6f6" stroke-width="0.5"/>
<rect x="295.29" y="229.21" width="2.01" height="1.59" fill="#000000"/>
<rect x="297.30" y="214.93" width="2.01" height="15.88" fill="#8b0000"/>
<rect x="301.76" y="219.69" width="2.01" height="11.11" fill="#8b0000"/>
<rect x="306.22" y="221.28" width="2.01" height="9.52" fill="#8b0000"/>
<rect x="310.68" y="211.75" width="2.01" height="19.05" fill="#8b0000"/>
<rect x="313.13" y="229.21" width="2.01" height="1.59" fill="#000000"/>
<rect x="315.14" y="194.29" width="2.01" height="36.51" fill="#8b0000"/>
<rect x="319.60" y="206.99" width="2.01" height="23.81" fill="#8b0000"/>
<rect x="322.05" y="226.04" width="2.01" height="4.76" fill="#000000"/>
<rect x="324.06" y="180.00" width="2.01" height="50.80" fill="#8b0000"/>
<rect x="326.51" y="227.62" width="2.01" height="3.17" fill="#000000"/>
<rect x="328.52" y="180.00" width="2.01" height="50.80" fill="#8b0000"/>
<rect x="330.97" y="229.21" width="2.01" height="1.59" fill="#000000"/>
<rect x="332.98" y="208.58" width="2.01" height="22.22" fill="#8b0000"/>
<rect x="337.44" y="224.45" width="2.01" height="6.35" fill="#8b0000"/>
<rect x="339.89" y="226.04" width="2.01" height="4.76" fill="#000000"/>
<rect x="341.90" y="219.69" width="2.01" height="11.11" fill="#8b0000"/>
<rect x="344.35" y="227.62" width="2.01" height="3.17" fill="#000000"/>
<rect x="346.36" y="219.69" width="2.01" height="11.11" fill="#8b0000"/>
<rect x="348.81" y="227.62" width="2.01" height="3.17" fill="#000000"/>
<rect x="350.82" y="214.93" width="2.01" height="15.88" fill="#8b0000"/>
<rect x="353.27" y="227.62" width="2.01" height="3.17" fill="#000000"/>
<rect x="355.28" y="224.45" width="2.01" height="6.35" fill="#8b0000"/>
<rect x="359.74" y="226.04" width="2.01" height="4.76" fill="#8b0000"/>
<rect x="362.19" y="227.62" width="2.01" height="3.17" fill="#000000"/>
<rect x="364.20" y="229.21" width="2.01" height="1.59" fill="#8b0000"/>
<rect x="366.65" y="224.45" width="2.01" height="6.35" fill="#000000"/>
<rect x="371.11" y="229.21" width="2.01" height="1.59" fill="#000000"/>
<rect x="377.58" y="227.62" width="2.01" height="3.17" fill="#8b0000"/>
<rect x="380.03" y="227.62" width="2.01" height="3.17" fill="#000000"/>
<rect x="382.04" y="224.45" width="2.01" height="6.35" fill="#8b0000"/>
<rect x="384.49" y="226.04" width="2.01" height="4.76" fill="#000000"/>
<rect x="386.50" y="226.04" width="2.01" height="4.76" fill="#8b0000"/>
<rect x="390.96" y="222.86" width="2.01" height="7.94" fill="#8b0000"/>
<rect x="395.42" y="222.86" width="2.01" height="7.94" fill="#8b0000"/>
<rect x="399.88" y="216.51" width="2.01" height="14.29" fill="#8b0000"/>
<text x="288.70" y="234.00" font-size="7.8" fill="#4d4d4d" stroke="#4d4d4d" text-anchor="end" class="tk">0</text>
<text x="288.70" y="218.12" font-size="7.8" fill="#4d4d4d" stroke="#4d4d4d" text-anchor="end" class="tk">10</text>
<text x="288.70" y="202.25" font-size="7.8" fill="#4d4d4d" stroke="#4d4d4d" text-anchor="end" class="tk">20</text>
<text x="288.70" y="186.38" font-size="7.8" fill="#4d4d4d" stroke="#4d4d4d" text-anchor="end" class="tk">30</text>
<text x="297.30" y="239.80" font-size="7.8" fill="#4d4d4d" stroke="#4d4d4d" text-anchor="middle" class="tk">0</text>
<text x="306.22" y="239.80" font-size="7.8" fill="#4d4d4d" stroke="#4d4d4d" text-anchor="middle" class="tk">2</text>
<text x="315.14" y="239.80" font-size="7.8" fill="#4d4d4d" stroke="#4d4d4d" text-anchor="middle" class="tk">4</text>
<text x="324.06" y="239.80" font-size="7.8" fill="#4d4d4d" stroke="#4d4d4d" text-anchor="middle" class="tk">6</text>
<text x="332.98" y="239.80" font-size="7.8" fill="#4d4d4d" stroke="#4d4d4d" text-anchor="middle" class="tk">8</text>
<text x="341.90" y="239.80" font-size="7.8" fill="#4d4d4d" stroke="#4d4d4d" text-anchor="middle" class="tk">10</text>
<text x="350.82" y="239.80" font-size="7.8" fill="#4d4d4d" stroke="#4d4d4d" text-anchor="middle" class="tk">12</text>
<text x="359.74" y="239.80" font-size="7.8" fill="#4d4d4d" stroke="#4d4d4d" text-anchor="middle" class="tk">14</text>
<text x="368.66" y="239.80" font-size="7.8" fill="#4d4d4d" stroke="#4d4d4d" text-anchor="middle" class="tk">16</text>
<text x="377.58" y="239.80" font-size="7.8" fill="#4d4d4d" stroke="#4d4d4d" text-anchor="middle" class="tk">18</text>
<text x="386.50" y="239.80" font-size="7.8" fill="#4d4d4d" stroke="#4d4d4d" text-anchor="middle" class="tk">20</text>
<text x="395.42" y="239.80" font-size="7.8" fill="#4d4d4d" stroke="#4d4d4d" text-anchor="middle" class="tk">22</text>
<text x="352.50" y="250.70" font-size="9.0" fill="#000" stroke="#000" text-anchor="middle" >Time of day</text>
<text x="354.00" y="260.20" font-size="8.8" fill="#1a1a1a" stroke="#1a1a1a" text-anchor="middle" >Residential zone</text>
<line x1="434.12" y1="230.80" x2="542.06" y2="230.80" stroke="#f6f6f6" stroke-width="0.5"/>
<line x1="434.12" y1="220.22" x2="542.06" y2="220.22" stroke="#f6f6f6" stroke-width="0.5"/>
<line x1="434.12" y1="209.63" x2="542.06" y2="209.63" stroke="#f6f6f6" stroke-width="0.5"/>
<line x1="434.12" y1="199.05" x2="542.06" y2="199.05" stroke="#f6f6f6" stroke-width="0.5"/>
<line x1="434.12" y1="188.47" x2="542.06" y2="188.47" stroke="#f6f6f6" stroke-width="0.5"/>
<line x1="434.12" y1="177.88" x2="542.06" y2="177.88" stroke="#f6f6f6" stroke-width="0.5"/>
<line x1="436.80" y1="177.46" x2="436.80" y2="233.34" stroke="#f6f6f6" stroke-width="0.5"/>
<line x1="445.72" y1="177.46" x2="445.72" y2="233.34" stroke="#f6f6f6" stroke-width="0.5"/>
<line x1="454.64" y1="177.46" x2="454.64" y2="233.34" stroke="#f6f6f6" stroke-width="0.5"/>
<line x1="463.56" y1="177.46" x2="463.56" y2="233.34" stroke="#f6f6f6" stroke-width="0.5"/>
<line x1="472.48" y1="177.46" x2="472.48" y2="233.34" stroke="#f6f6f6" stroke-width="0.5"/>
<line x1="481.40" y1="177.46" x2="481.40" y2="233.34" stroke="#f6f6f6" stroke-width="0.5"/>
<line x1="490.32" y1="177.46" x2="490.32" y2="233.34" stroke="#f6f6f6" stroke-width="0.5"/>
<line x1="499.24" y1="177.46" x2="499.24" y2="233.34" stroke="#f6f6f6" stroke-width="0.5"/>
<line x1="508.16" y1="177.46" x2="508.16" y2="233.34" stroke="#f6f6f6" stroke-width="0.5"/>
<line x1="517.08" y1="177.46" x2="517.08" y2="233.34" stroke="#f6f6f6" stroke-width="0.5"/>
<line x1="526.00" y1="177.46" x2="526.00" y2="233.34" stroke="#f6f6f6" stroke-width="0.5"/>
<line x1="534.92" y1="177.46" x2="534.92" y2="233.34" stroke="#f6f6f6" stroke-width="0.5"/>
<rect x="434.79" y="226.57" width="2.01" height="4.23" fill="#000000"/>
<rect x="436.80" y="226.57" width="2.01" height="4.23" fill="#8b0000"/>
<rect x="441.26" y="222.33" width="2.01" height="8.47" fill="#8b0000"/>
<rect x="443.71" y="226.57" width="2.01" height="4.23" fill="#000000"/>
<rect x="445.72" y="222.33" width="2.01" height="8.47" fill="#8b0000"/>
<rect x="448.17" y="226.57" width="2.01" height="4.23" fill="#000000"/>
<rect x="450.18" y="218.10" width="2.01" height="12.70" fill="#8b0000"/>
<rect x="454.64" y="196.93" width="2.01" height="33.87" fill="#8b0000"/>
<rect x="457.09" y="222.33" width="2.01" height="8.47" fill="#000000"/>
<rect x="459.10" y="226.57" width="2.01" height="4.23" fill="#8b0000"/>
<rect x="461.55" y="218.10" width="2.01" height="12.70" fill="#000000"/>
<rect x="463.56" y="218.10" width="2.01" height="12.70" fill="#8b0000"/>
<rect x="466.01" y="222.33" width="2.01" height="8.47" fill="#000000"/>
<rect x="468.02" y="209.63" width="2.01" height="21.17" fill="#8b0000"/>
<rect x="470.47" y="213.87" width="2.01" height="16.93" fill="#000000"/>
<rect x="472.48" y="209.63" width="2.01" height="21.17" fill="#8b0000"/>
<rect x="474.93" y="205.40" width="2.01" height="25.40" fill="#000000"/>
<rect x="479.39" y="192.70" width="2.01" height="38.10" fill="#000000"/>
<rect x="483.85" y="180.00" width="2.01" height="50.80" fill="#000000"/>
<rect x="488.31" y="201.17" width="2.01" height="29.63" fill="#000000"/>
<rect x="490.32" y="222.33" width="2.01" height="8.47" fill="#8b0000"/>
<rect x="492.77" y="196.93" width="2.01" height="33.87" fill="#000000"/>
<rect x="497.23" y="209.63" width="2.01" height="21.17" fill="#000000"/>
<rect x="501.69" y="218.10" width="2.01" height="12.70" fill="#000000"/>
<rect x="506.15" y="218.10" width="2.01" height="12.70" fill="#000000"/>
<rect x="508.16" y="226.57" width="2.01" height="4.23" fill="#8b0000"/>
<rect x="510.61" y="213.87" width="2.01" height="16.93" fill="#000000"/>
<rect x="512.62" y="222.33" width="2.01" height="8.47" fill="#8b0000"/>
<rect x="515.07" y="218.10" width="2.01" height="12.70" fill="#000000"/>
<rect x="519.53" y="226.57" width="2.01" height="4.23" fill="#000000"/>
<rect x="528.45" y="222.33" width="2.01" height="8.47" fill="#000000"/>
<rect x="530.46" y="218.10" width="2.01" height="12.70" fill="#8b0000"/>
<rect x="534.92" y="226.57" width="2.01" height="4.23" fill="#8b0000"/>
<text x="428.20" y="234.00" font-size="7.8" fill="#4d4d4d" stroke="#4d4d4d" text-anchor="end" class="tk">0.0</text>
<text x="428.20" y="223.42" font-size="7.8" fill="#4d4d4d" stroke="#4d4d4d" text-anchor="end" class="tk">2.5</text>
<text x="428.20" y="212.83" font-size="7.8" fill="#4d4d4d" stroke="#4d4d4d" text-anchor="end" class="tk">5.0</text>
<text x="428.20" y="202.25" font-size="7.8" fill="#4d4d4d" stroke="#4d4d4d" text-anchor="end" class="tk">7.5</text>
<text x="428.20" y="191.67" font-size="7.8" fill="#4d4d4d" stroke="#4d4d4d" text-anchor="end" class="tk">10.0</text>
<text x="428.20" y="181.08" font-size="7.8" fill="#4d4d4d" stroke="#4d4d4d" text-anchor="end" class="tk">12.5</text>
<text x="436.80" y="239.80" font-size="7.8" fill="#4d4d4d" stroke="#4d4d4d" text-anchor="middle" class="tk">0</text>
<text x="445.72" y="239.80" font-size="7.8" fill="#4d4d4d" stroke="#4d4d4d" text-anchor="middle" class="tk">2</text>
<text x="454.64" y="239.80" font-size="7.8" fill="#4d4d4d" stroke="#4d4d4d" text-anchor="middle" class="tk">4</text>
<text x="463.56" y="239.80" font-size="7.8" fill="#4d4d4d" stroke="#4d4d4d" text-anchor="middle" class="tk">6</text>
<text x="472.48" y="239.80" font-size="7.8" fill="#4d4d4d" stroke="#4d4d4d" text-anchor="middle" class="tk">8</text>
<text x="481.40" y="239.80" font-size="7.8" fill="#4d4d4d" stroke="#4d4d4d" text-anchor="middle" class="tk">10</text>
<text x="490.32" y="239.80" font-size="7.8" fill="#4d4d4d" stroke="#4d4d4d" text-anchor="middle" class="tk">12</text>
<text x="499.24" y="239.80" font-size="7.8" fill="#4d4d4d" stroke="#4d4d4d" text-anchor="middle" class="tk">14</text>
<text x="508.16" y="239.80" font-size="7.8" fill="#4d4d4d" stroke="#4d4d4d" text-anchor="middle" class="tk">16</text>
<text x="517.08" y="239.80" font-size="7.8" fill="#4d4d4d" stroke="#4d4d4d" text-anchor="middle" class="tk">18</text>
<text x="526.00" y="239.80" font-size="7.8" fill="#4d4d4d" stroke="#4d4d4d" text-anchor="middle" class="tk">20</text>
<text x="534.92" y="239.80" font-size="7.8" fill="#4d4d4d" stroke="#4d4d4d" text-anchor="middle" class="tk">22</text>
<text x="486.20" y="250.70" font-size="9.0" fill="#000" stroke="#000" text-anchor="middle" >Time of day</text>
<text x="487.70" y="260.20" font-size="8.8" fill="#1a1a1a" stroke="#1a1a1a" text-anchor="middle" >Other</text>
<line x1="31.08" y1="361.70" x2="140.94" y2="361.70" stroke="#f6f6f6" stroke-width="0.5"/>
<line x1="31.08" y1="344.77" x2="140.94" y2="344.77" stroke="#f6f6f6" stroke-width="0.5"/>
<line x1="31.08" y1="327.83" x2="140.94" y2="327.83" stroke="#f6f6f6" stroke-width="0.5"/>
<line x1="31.08" y1="310.90" x2="140.94" y2="310.90" stroke="#f6f6f6" stroke-width="0.5"/>
<line x1="33.80" y1="308.36" x2="33.80" y2="364.24" stroke="#f6f6f6" stroke-width="0.5"/>
<line x1="42.88" y1="308.36" x2="42.88" y2="364.24" stroke="#f6f6f6" stroke-width="0.5"/>
<line x1="51.96" y1="308.36" x2="51.96" y2="364.24" stroke="#f6f6f6" stroke-width="0.5"/>
<line x1="61.04" y1="308.36" x2="61.04" y2="364.24" stroke="#f6f6f6" stroke-width="0.5"/>
<line x1="70.12" y1="308.36" x2="70.12" y2="364.24" stroke="#f6f6f6" stroke-width="0.5"/>
<line x1="79.20" y1="308.36" x2="79.20" y2="364.24" stroke="#f6f6f6" stroke-width="0.5"/>
<line x1="88.28" y1="308.36" x2="88.28" y2="364.24" stroke="#f6f6f6" stroke-width="0.5"/>
<line x1="97.36" y1="308.36" x2="97.36" y2="364.24" stroke="#f6f6f6" stroke-width="0.5"/>
<line x1="106.44" y1="308.36" x2="106.44" y2="364.24" stroke="#f6f6f6" stroke-width="0.5"/>
<line x1="115.52" y1="308.36" x2="115.52" y2="364.24" stroke="#f6f6f6" stroke-width="0.5"/>
<line x1="124.60" y1="308.36" x2="124.60" y2="364.24" stroke="#f6f6f6" stroke-width="0.5"/>
<line x1="133.68" y1="308.36" x2="133.68" y2="364.24" stroke="#f6f6f6" stroke-width="0.5"/>
<rect x="33.80" y="351.54" width="2.04" height="10.16" fill="#8b0000"/>
<rect x="36.30" y="358.31" width="2.04" height="3.39" fill="#000000"/>
<rect x="38.34" y="354.93" width="2.04" height="6.77" fill="#8b0000"/>
<rect x="42.88" y="354.93" width="2.04" height="6.77" fill="#8b0000"/>
<rect x="45.38" y="358.31" width="2.04" height="3.39" fill="#000000"/>
<rect x="47.42" y="344.77" width="2.04" height="16.93" fill="#8b0000"/>
<rect x="49.92" y="331.22" width="2.04" height="30.48" fill="#000000"/>
<rect x="51.96" y="337.99" width="2.04" height="23.71" fill="#8b0000"/>
<rect x="54.46" y="354.93" width="2.04" height="6.77" fill="#000000"/>
<rect x="56.50" y="341.38" width="2.04" height="20.32" fill="#8b0000"/>
<rect x="59.00" y="334.61" width="2.04" height="27.09" fill="#000000"/>
<rect x="61.04" y="327.83" width="2.04" height="33.87" fill="#8b0000"/>
<rect x="63.54" y="344.77" width="2.04" height="16.93" fill="#000000"/>
<rect x="65.58" y="324.45" width="2.04" height="37.25" fill="#8b0000"/>
<rect x="68.08" y="334.61" width="2.04" height="27.09" fill="#000000"/>
<rect x="70.12" y="331.22" width="2.04" height="30.48" fill="#8b0000"/>
<rect x="72.62" y="324.45" width="2.04" height="37.25" fill="#000000"/>
<rect x="74.66" y="344.77" width="2.04" height="16.93" fill="#8b0000"/>
<rect x="77.16" y="310.90" width="2.04" height="50.80" fill="#000000"/>
<rect x="79.20" y="351.54" width="2.04" height="10.16" fill="#8b0000"/>
<rect x="81.70" y="310.90" width="2.04" height="50.80" fill="#000000"/>
<rect x="83.74" y="331.22" width="2.04" height="30.48" fill="#8b0000"/>
<rect x="86.24" y="314.29" width="2.04" height="47.41" fill="#000000"/>
<rect x="88.28" y="341.38" width="2.04" height="20.32" fill="#8b0000"/>
<rect x="90.78" y="321.06" width="2.04" height="40.64" fill="#000000"/>
<rect x="92.82" y="358.31" width="2.04" height="3.39" fill="#8b0000"/>
<rect x="95.32" y="317.67" width="2.04" height="44.03" fill="#000000"/>
<rect x="97.36" y="354.93" width="2.04" height="6.77" fill="#8b0000"/>
<rect x="99.86" y="324.45" width="2.04" height="37.25" fill="#000000"/>
<rect x="101.90" y="351.54" width="2.04" height="10.16" fill="#8b0000"/>
<rect x="104.40" y="354.93" width="2.04" height="6.77" fill="#000000"/>
<rect x="106.44" y="354.93" width="2.04" height="6.77" fill="#8b0000"/>
<rect x="108.94" y="348.15" width="2.04" height="13.55" fill="#000000"/>
<rect x="113.48" y="344.77" width="2.04" height="16.93" fill="#000000"/>
<rect x="118.02" y="348.15" width="2.04" height="13.55" fill="#000000"/>
<rect x="120.06" y="351.54" width="2.04" height="10.16" fill="#8b0000"/>
<rect x="122.56" y="358.31" width="2.04" height="3.39" fill="#000000"/>
<rect x="127.10" y="354.93" width="2.04" height="6.77" fill="#000000"/>
<rect x="129.14" y="358.31" width="2.04" height="3.39" fill="#8b0000"/>
<rect x="133.68" y="351.54" width="2.04" height="10.16" fill="#8b0000"/>
<text x="25.20" y="364.90" font-size="7.8" fill="#4d4d4d" stroke="#4d4d4d" text-anchor="end" class="tk">0</text>
<text x="25.20" y="347.97" font-size="7.8" fill="#4d4d4d" stroke="#4d4d4d" text-anchor="end" class="tk">5</text>
<text x="25.20" y="331.03" font-size="7.8" fill="#4d4d4d" stroke="#4d4d4d" text-anchor="end" class="tk">10</text>
<text x="25.20" y="314.10" font-size="7.8" fill="#4d4d4d" stroke="#4d4d4d" text-anchor="end" class="tk">15</text>
<text x="33.80" y="370.70" font-size="7.8" fill="#4d4d4d" stroke="#4d4d4d" text-anchor="middle" class="tk">0</text>
<text x="42.88" y="370.70" font-size="7.8" fill="#4d4d4d" stroke="#4d4d4d" text-anchor="middle" class="tk">2</text>
<text x="51.96" y="370.70" font-size="7.8" fill="#4d4d4d" stroke="#4d4d4d" text-anchor="middle" class="tk">4</text>
<text x="61.04" y="370.70" font-size="7.8" fill="#4d4d4d" stroke="#4d4d4d" text-anchor="middle" class="tk">6</text>
<text x="70.12" y="370.70" font-size="7.8" fill="#4d4d4d" stroke="#4d4d4d" text-anchor="middle" class="tk">8</text>
<text x="79.20" y="370.70" font-size="7.8" fill="#4d4d4d" stroke="#4d4d4d" text-anchor="middle" class="tk">10</text>
<text x="88.28" y="370.70" font-size="7.8" fill="#4d4d4d" stroke="#4d4d4d" text-anchor="middle" class="tk">12</text>
<text x="97.36" y="370.70" font-size="7.8" fill="#4d4d4d" stroke="#4d4d4d" text-anchor="middle" class="tk">14</text>
<text x="106.44" y="370.70" font-size="7.8" fill="#4d4d4d" stroke="#4d4d4d" text-anchor="middle" class="tk">16</text>
<text x="115.52" y="370.70" font-size="7.8" fill="#4d4d4d" stroke="#4d4d4d" text-anchor="middle" class="tk">18</text>
<text x="124.60" y="370.70" font-size="7.8" fill="#4d4d4d" stroke="#4d4d4d" text-anchor="middle" class="tk">20</text>
<text x="133.68" y="370.70" font-size="7.8" fill="#4d4d4d" stroke="#4d4d4d" text-anchor="middle" class="tk">22</text>
<text x="85.10" y="381.60" font-size="9.0" fill="#000" stroke="#000" text-anchor="middle" >Time of day</text>
<text x="86.60" y="391.10" font-size="8.8" fill="#1a1a1a" stroke="#1a1a1a" text-anchor="middle" >Industrial zone</text>
<text x="0" y="0" font-size="8.2" fill="#000" stroke="#000" text-anchor="middle" transform="translate(13.90,336.30) rotate(-90)">Frequency</text>
<line x1="164.78" y1="361.70" x2="274.64" y2="361.70" stroke="#f6f6f6" stroke-width="0.5"/>
<line x1="164.78" y1="348.33" x2="274.64" y2="348.33" stroke="#f6f6f6" stroke-width="0.5"/>
<line x1="164.78" y1="334.96" x2="274.64" y2="334.96" stroke="#f6f6f6" stroke-width="0.5"/>
<line x1="164.78" y1="321.59" x2="274.64" y2="321.59" stroke="#f6f6f6" stroke-width="0.5"/>
<line x1="167.50" y1="308.36" x2="167.50" y2="364.24" stroke="#f6f6f6" stroke-width="0.5"/>
<line x1="176.58" y1="308.36" x2="176.58" y2="364.24" stroke="#f6f6f6" stroke-width="0.5"/>
<line x1="185.66" y1="308.36" x2="185.66" y2="364.24" stroke="#f6f6f6" stroke-width="0.5"/>
<line x1="194.74" y1="308.36" x2="194.74" y2="364.24" stroke="#f6f6f6" stroke-width="0.5"/>
<line x1="203.82" y1="308.36" x2="203.82" y2="364.24" stroke="#f6f6f6" stroke-width="0.5"/>
<line x1="212.90" y1="308.36" x2="212.90" y2="364.24" stroke="#f6f6f6" stroke-width="0.5"/>
<line x1="221.98" y1="308.36" x2="221.98" y2="364.24" stroke="#f6f6f6" stroke-width="0.5"/>
<line x1="231.06" y1="308.36" x2="231.06" y2="364.24" stroke="#f6f6f6" stroke-width="0.5"/>
<line x1="240.14" y1="308.36" x2="240.14" y2="364.24" stroke="#f6f6f6" stroke-width="0.5"/>
<line x1="249.22" y1="308.36" x2="249.22" y2="364.24" stroke="#f6f6f6" stroke-width="0.5"/>
<line x1="258.30" y1="308.36" x2="258.30" y2="364.24" stroke="#f6f6f6" stroke-width="0.5"/>
<line x1="267.38" y1="308.36" x2="267.38" y2="364.24" stroke="#f6f6f6" stroke-width="0.5"/>
<rect x="167.50" y="345.66" width="2.04" height="16.04" fill="#8b0000"/>
<rect x="172.04" y="332.29" width="2.04" height="29.41" fill="#8b0000"/>
<rect x="176.58" y="340.31" width="2.04" height="21.39" fill="#8b0000"/>
<rect x="181.12" y="334.96" width="2.04" height="26.74" fill="#8b0000"/>
<rect x="183.62" y="356.35" width="2.04" height="5.35" fill="#000000"/>
<rect x="185.66" y="345.66" width="2.04" height="16.04" fill="#8b0000"/>
<rect x="190.20" y="353.68" width="2.04" height="8.02" fill="#8b0000"/>
<rect x="192.70" y="359.03" width="2.04" height="2.67" fill="#000000"/>
<rect x="194.74" y="329.62" width="2.04" height="32.08" fill="#8b0000"/>
<rect x="197.24" y="359.03" width="2.04" height="2.67" fill="#000000"/>
<rect x="199.28" y="310.90" width="2.04" height="50.80" fill="#8b0000"/>
<rect x="201.78" y="359.03" width="2.04" height="2.67" fill="#000000"/>
<rect x="203.82" y="321.59" width="2.04" height="40.11" fill="#8b0000"/>
<rect x="208.36" y="318.92" width="2.04" height="42.78" fill="#8b0000"/>
<rect x="210.86" y="359.03" width="2.04" height="2.67" fill="#000000"/>
<rect x="212.90" y="329.62" width="2.04" height="32.08" fill="#8b0000"/>
<rect x="217.44" y="345.66" width="2.04" height="16.04" fill="#8b0000"/>
<rect x="219.94" y="359.03" width="2.04" height="2.67" fill="#000000"/>
<rect x="221.98" y="345.66" width="2.04" height="16.04" fill="#8b0000"/>
<rect x="224.48" y="359.03" width="2.04" height="2.67" fill="#000000"/>
<rect x="226.52" y="342.98" width="2.04" height="18.72" fill="#8b0000"/>
<rect x="229.02" y="356.35" width="2.04" height="5.35" fill="#000000"/>
<rect x="231.06" y="337.64" width="2.04" height="24.06" fill="#8b0000"/>
<rect x="233.56" y="359.03" width="2.04" height="2.67" fill="#000000"/>
<rect x="235.60" y="353.68" width="2.04" height="8.02" fill="#8b0000"/>
<rect x="240.14" y="356.35" width="2.04" height="5.35" fill="#8b0000"/>
<rect x="244.68" y="356.35" width="2.04" height="5.35" fill="#8b0000"/>
<rect x="249.22" y="356.35" width="2.04" height="5.35" fill="#8b0000"/>
<rect x="253.76" y="356.35" width="2.04" height="5.35" fill="#8b0000"/>
<rect x="262.84" y="359.03" width="2.04" height="2.67" fill="#8b0000"/>
<rect x="267.38" y="356.35" width="2.04" height="5.35" fill="#8b0000"/>
<rect x="271.92" y="351.01" width="2.04" height="10.69" fill="#8b0000"/>
<text x="158.90" y="364.90" font-size="7.8" fill="#4d4d4d" stroke="#4d4d4d" text-anchor="end" class="tk">0</text>
<text x="158.90" y="351.53" font-size="7.8" fill="#4d4d4d" stroke="#4d4d4d" text-anchor="end" class="tk">5</text>
<text x="158.90" y="338.16" font-size="7.8" fill="#4d4d4d" stroke="#4d4d4d" text-anchor="end" class="tk">10</text>
<text x="158.90" y="324.79" font-size="7.8" fill="#4d4d4d" stroke="#4d4d4d" text-anchor="end" class="tk">15</text>
<text x="167.50" y="370.70" font-size="7.8" fill="#4d4d4d" stroke="#4d4d4d" text-anchor="middle" class="tk">0</text>
<text x="176.58" y="370.70" font-size="7.8" fill="#4d4d4d" stroke="#4d4d4d" text-anchor="middle" class="tk">2</text>
<text x="185.66" y="370.70" font-size="7.8" fill="#4d4d4d" stroke="#4d4d4d" text-anchor="middle" class="tk">4</text>
<text x="194.74" y="370.70" font-size="7.8" fill="#4d4d4d" stroke="#4d4d4d" text-anchor="middle" class="tk">6</text>
<text x="203.82" y="370.70" font-size="7.8" fill="#4d4d4d" stroke="#4d4d4d" text-anchor="middle" class="tk">8</text>
<text x="212.90" y="370.70" font-size="7.8" fill="#4d4d4d" stroke="#4d4d4d" text-anchor="middle" class="tk">10</text>
<text x="221.98" y="370.70" font-size="7.8" fill="#4d4d4d" stroke="#4d4d4d" text-anchor="middle" class="tk">12</text>
<text x="231.06" y="370.70" font-size="7.8" fill="#4d4d4d" stroke="#4d4d4d" text-anchor="middle" class="tk">14</text>
<text x="240.14" y="370.70" font-size="7.8" fill="#4d4d4d" stroke="#4d4d4d" text-anchor="middle" class="tk">16</text>
<text x="249.22" y="370.70" font-size="7.8" fill="#4d4d4d" stroke="#4d4d4d" text-anchor="middle" class="tk">18</text>
<text x="258.30" y="370.70" font-size="7.8" fill="#4d4d4d" stroke="#4d4d4d" text-anchor="middle" class="tk">20</text>
<text x="267.38" y="370.70" font-size="7.8" fill="#4d4d4d" stroke="#4d4d4d" text-anchor="middle" class="tk">22</text>
<text x="218.80" y="381.60" font-size="9.0" fill="#000" stroke="#000" text-anchor="middle" >Time of day</text>
<text x="220.30" y="391.10" font-size="8.8" fill="#1a1a1a" stroke="#1a1a1a" text-anchor="middle" >Commercial zone</text>
<line x1="298.68" y1="361.70" x2="408.54" y2="361.70" stroke="#f6f6f6" stroke-width="0.5"/>
<line x1="298.68" y1="342.16" x2="408.54" y2="342.16" stroke="#f6f6f6" stroke-width="0.5"/>
<line x1="298.68" y1="322.62" x2="408.54" y2="322.62" stroke="#f6f6f6" stroke-width="0.5"/>
<line x1="301.40" y1="308.36" x2="301.40" y2="364.24" stroke="#f6f6f6" stroke-width="0.5"/>
<line x1="310.48" y1="308.36" x2="310.48" y2="364.24" stroke="#f6f6f6" stroke-width="0.5"/>
<line x1="319.56" y1="308.36" x2="319.56" y2="364.24" stroke="#f6f6f6" stroke-width="0.5"/>
<line x1="328.64" y1="308.36" x2="328.64" y2="364.24" stroke="#f6f6f6" stroke-width="0.5"/>
<line x1="337.72" y1="308.36" x2="337.72" y2="364.24" stroke="#f6f6f6" stroke-width="0.5"/>
<line x1="346.80" y1="308.36" x2="346.80" y2="364.24" stroke="#f6f6f6" stroke-width="0.5"/>
<line x1="355.88" y1="308.36" x2="355.88" y2="364.24" stroke="#f6f6f6" stroke-width="0.5"/>
<line x1="364.96" y1="308.36" x2="364.96" y2="364.24" stroke="#f6f6f6" stroke-width="0.5"/>
<line x1="374.04" y1="308.36" x2="374.04" y2="364.24" stroke="#f6f6f6" stroke-width="0.5"/>
<line x1="383.12" y1="308.36" x2="383.12" y2="364.24" stroke="#f6f6f6" stroke-width="0.5"/>
<line x1="392.20" y1="308.36" x2="392.20" y2="364.24" stroke="#f6f6f6" stroke-width="0.5"/>
<line x1="401.28" y1="308.36" x2="401.28" y2="364.24" stroke="#f6f6f6" stroke-width="0.5"/>
<rect x="301.40" y="328.48" width="2.04" height="33.22" fill="#8b0000"/>
<rect x="303.90" y="359.75" width="2.04" height="1.95" fill="#000000"/>
<rect x="305.94" y="351.93" width="2.04" height="9.77" fill="#8b0000"/>
<rect x="308.44" y="359.75" width="2.04" height="1.95" fill="#000000"/>
<rect x="310.48" y="349.98" width="2.04" height="11.72" fill="#8b0000"/>
<rect x="312.98" y="359.75" width="2.04" height="1.95" fill="#000000"/>
<rect x="315.02" y="351.93" width="2.04" height="9.77" fill="#8b0000"/>
<rect x="317.52" y="359.75" width="2.04" height="1.95" fill="#000000"/>
<rect x="319.56" y="342.16" width="2.04" height="19.54" fill="#8b0000"/>
<rect x="322.06" y="357.79" width="2.04" height="3.91" fill="#000000"/>
<rect x="324.10" y="342.16" width="2.04" height="19.54" fill="#8b0000"/>
<rect x="326.60" y="351.93" width="2.04" height="9.77" fill="#000000"/>
<rect x="328.64" y="316.76" width="2.04" height="44.94" fill="#8b0000"/>
<rect x="331.14" y="351.93" width="2.04" height="9.77" fill="#000000"/>
<rect x="333.18" y="320.67" width="2.04" height="41.03" fill="#8b0000"/>
<rect x="335.68" y="359.75" width="2.04" height="1.95" fill="#000000"/>
<rect x="337.72" y="310.90" width="2.04" height="50.80" fill="#8b0000"/>
<rect x="340.22" y="357.79" width="2.04" height="3.91" fill="#000000"/>
<rect x="342.26" y="320.67" width="2.04" height="41.03" fill="#8b0000"/>
<rect x="344.76" y="357.79" width="2.04" height="3.91" fill="#000000"/>
<rect x="346.80" y="340.21" width="2.04" height="21.49" fill="#8b0000"/>
<rect x="351.34" y="342.16" width="2.04" height="19.54" fill="#8b0000"/>
<rect x="353.84" y="355.84" width="2.04" height="5.86" fill="#000000"/>
<rect x="355.88" y="349.98" width="2.04" height="11.72" fill="#8b0000"/>
<rect x="358.38" y="353.88" width="2.04" height="7.82" fill="#000000"/>
<rect x="360.42" y="344.12" width="2.04" height="17.58" fill="#8b0000"/>
<rect x="362.92" y="357.79" width="2.04" height="3.91" fill="#000000"/>
<rect x="364.96" y="346.07" width="2.04" height="15.63" fill="#8b0000"/>
<rect x="369.50" y="349.98" width="2.04" height="11.72" fill="#8b0000"/>
<rect x="372.00" y="359.75" width="2.04" height="1.95" fill="#000000"/>
<rect x="374.04" y="357.79" width="2.04" height="3.91" fill="#8b0000"/>
<rect x="376.54" y="359.75" width="2.04" height="1.95" fill="#000000"/>
<rect x="378.58" y="355.84" width="2.04" height="5.86" fill="#8b0000"/>
<rect x="383.12" y="359.75" width="2.04" height="1.95" fill="#8b0000"/>
<rect x="392.20" y="349.98" width="2.04" height="11.72" fill="#8b0000"/>
<rect x="396.74" y="348.02" width="2.04" height="13.68" fill="#8b0000"/>
<rect x="401.28" y="351.93" width="2.04" height="9.77" fill="#8b0000"/>
<rect x="403.78" y="359.75" width="2.04" height="1.95" fill="#000000"/>
<rect x="405.82" y="344.12" width="2.04" height="17.58" fill="#8b0000"/>
<text x="292.80" y="364.90" font-size="7.8" fill="#4d4d4d" stroke="#4d4d4d" text-anchor="end" class="tk">0</text>
<text x="292.80" y="345.36" font-size="7.8" fill="#4d4d4d" stroke="#4d4d4d" text-anchor="end" class="tk">10</text>
<text x="292.80" y="325.82" font-size="7.8" fill="#4d4d4d" stroke="#4d4d4d" text-anchor="end" class="tk">20</text>
<text x="301.40" y="370.70" font-size="7.8" fill="#4d4d4d" stroke="#4d4d4d" text-anchor="middle" class="tk">0</text>
<text x="310.48" y="370.70" font-size="7.8" fill="#4d4d4d" stroke="#4d4d4d" text-anchor="middle" class="tk">2</text>
<text x="319.56" y="370.70" font-size="7.8" fill="#4d4d4d" stroke="#4d4d4d" text-anchor="middle" class="tk">4</text>
<text x="328.64" y="370.70" font-size="7.8" fill="#4d4d4d" stroke="#4d4d4d" text-anchor="middle" class="tk">6</text>
<text x="337.72" y="370.70" font-size="7.8" fill="#4d4d4d" stroke="#4d4d4d" text-anchor="middle" class="tk">8</text>
<text x="346.80" y="370.70" font-size="7.8" fill="#4d4d4d" stroke="#4d4d4d" text-anchor="middle" class="tk">10</text>
<text x="355.88" y="370.70" font-size="7.8" fill="#4d4d4d" stroke="#4d4d4d" text-anchor="middle" class="tk">12</text>
<text x="364.96" y="370.70" font-size="7.8" fill="#4d4d4d" stroke="#4d4d4d" text-anchor="middle" class="tk">14</text>
<text x="374.04" y="370.70" font-size="7.8" fill="#4d4d4d" stroke="#4d4d4d" text-anchor="middle" class="tk">16</text>
<text x="383.12" y="370.70" font-size="7.8" fill="#4d4d4d" stroke="#4d4d4d" text-anchor="middle" class="tk">18</text>
<text x="392.20" y="370.70" font-size="7.8" fill="#4d4d4d" stroke="#4d4d4d" text-anchor="middle" class="tk">20</text>
<text x="401.28" y="370.70" font-size="7.8" fill="#4d4d4d" stroke="#4d4d4d" text-anchor="middle" class="tk">22</text>
<text x="352.50" y="381.60" font-size="9.0" fill="#000" stroke="#000" text-anchor="middle" >Time of day</text>
<text x="354.00" y="391.10" font-size="8.8" fill="#1a1a1a" stroke="#1a1a1a" text-anchor="middle" >Residential zone</text>
<line x1="432.48" y1="361.70" x2="542.34" y2="361.70" stroke="#f6f6f6" stroke-width="0.5"/>
<line x1="432.48" y1="345.82" x2="542.34" y2="345.82" stroke="#f6f6f6" stroke-width="0.5"/>
<line x1="432.48" y1="329.95" x2="542.34" y2="329.95" stroke="#f6f6f6" stroke-width="0.5"/>
<line x1="432.48" y1="314.07" x2="542.34" y2="314.07" stroke="#f6f6f6" stroke-width="0.5"/>
<line x1="435.20" y1="308.36" x2="435.20" y2="364.24" stroke="#f6f6f6" stroke-width="0.5"/>
<line x1="444.28" y1="308.36" x2="444.28" y2="364.24" stroke="#f6f6f6" stroke-width="0.5"/>
<line x1="453.36" y1="308.36" x2="453.36" y2="364.24" stroke="#f6f6f6" stroke-width="0.5"/>
<line x1="462.44" y1="308.36" x2="462.44" y2="364.24" stroke="#f6f6f6" stroke-width="0.5"/>
<line x1="471.52" y1="308.36" x2="471.52" y2="364.24" stroke="#f6f6f6" stroke-width="0.5"/>
<line x1="480.60" y1="308.36" x2="480.60" y2="364.24" stroke="#f6f6f6" stroke-width="0.5"/>
<line x1="489.68" y1="308.36" x2="489.68" y2="364.24" stroke="#f6f6f6" stroke-width="0.5"/>
<line x1="498.76" y1="308.36" x2="498.76" y2="364.24" stroke="#f6f6f6" stroke-width="0.5"/>
<line x1="507.84" y1="308.36" x2="507.84" y2="364.24" stroke="#f6f6f6" stroke-width="0.5"/>
<line x1="516.92" y1="308.36" x2="516.92" y2="364.24" stroke="#f6f6f6" stroke-width="0.5"/>
<line x1="526.00" y1="308.36" x2="526.00" y2="364.24" stroke="#f6f6f6" stroke-width="0.5"/>
<line x1="535.08" y1="308.36" x2="535.08" y2="364.24" stroke="#f6f6f6" stroke-width="0.5"/>
<rect x="433.16" y="352.18" width="2.04" height="9.52" fill="#000000"/>
<rect x="435.20" y="355.35" width="2.04" height="6.35" fill="#8b0000"/>
<rect x="437.70" y="352.18" width="2.04" height="9.52" fill="#000000"/>
<rect x="439.74" y="355.35" width="2.04" height="6.35" fill="#8b0000"/>
<rect x="446.78" y="349.00" width="2.04" height="12.70" fill="#000000"/>
<rect x="451.32" y="358.52" width="2.04" height="3.17" fill="#000000"/>
<rect x="453.36" y="355.35" width="2.04" height="6.35" fill="#8b0000"/>
<rect x="455.86" y="358.52" width="2.04" height="3.17" fill="#000000"/>
<rect x="460.40" y="349.00" width="2.04" height="12.70" fill="#000000"/>
<rect x="462.44" y="358.52" width="2.04" height="3.17" fill="#8b0000"/>
<rect x="464.94" y="339.47" width="2.04" height="22.22" fill="#000000"/>
<rect x="466.98" y="358.52" width="2.04" height="3.17" fill="#8b0000"/>
<rect x="469.48" y="333.12" width="2.04" height="28.57" fill="#000000"/>
<rect x="471.52" y="342.65" width="2.04" height="19.05" fill="#8b0000"/>
<rect x="474.02" y="342.65" width="2.04" height="19.05" fill="#000000"/>
<rect x="476.06" y="349.00" width="2.04" height="12.70" fill="#8b0000"/>
<rect x="478.56" y="329.95" width="2.04" height="31.75" fill="#000000"/>
<rect x="480.60" y="349.00" width="2.04" height="12.70" fill="#8b0000"/>
<rect x="483.10" y="310.90" width="2.04" height="50.80" fill="#000000"/>
<rect x="485.14" y="339.47" width="2.04" height="22.22" fill="#8b0000"/>
<rect x="487.64" y="342.65" width="2.04" height="19.05" fill="#000000"/>
<rect x="489.68" y="349.00" width="2.04" height="12.70" fill="#8b0000"/>
<rect x="492.18" y="323.60" width="2.04" height="38.10" fill="#000000"/>
<rect x="494.22" y="355.35" width="2.04" height="6.35" fill="#8b0000"/>
<rect x="496.72" y="329.95" width="2.04" height="31.75" fill="#000000"/>
<rect x="498.76" y="345.82" width="2.04" height="15.88" fill="#8b0000"/>
<rect x="501.26" y="345.82" width="2.04" height="15.88" fill="#000000"/>
<rect x="503.30" y="355.35" width="2.04" height="6.35" fill="#8b0000"/>
<rect x="505.80" y="339.47" width="2.04" height="22.22" fill="#000000"/>
<rect x="510.34" y="345.82" width="2.04" height="15.88" fill="#000000"/>
<rect x="512.38" y="358.52" width="2.04" height="3.17" fill="#8b0000"/>
<rect x="514.88" y="352.18" width="2.04" height="9.52" fill="#000000"/>
<rect x="519.42" y="352.18" width="2.04" height="9.52" fill="#000000"/>
<rect x="521.46" y="358.52" width="2.04" height="3.17" fill="#8b0000"/>
<rect x="523.96" y="345.82" width="2.04" height="15.88" fill="#000000"/>
<rect x="526.00" y="358.52" width="2.04" height="3.17" fill="#8b0000"/>
<rect x="528.50" y="352.18" width="2.04" height="9.52" fill="#000000"/>
<rect x="533.04" y="355.35" width="2.04" height="6.35" fill="#000000"/>
<rect x="535.08" y="352.18" width="2.04" height="9.52" fill="#8b0000"/>
<rect x="537.58" y="352.18" width="2.04" height="9.52" fill="#000000"/>
<rect x="539.62" y="349.00" width="2.04" height="12.70" fill="#8b0000"/>
<text x="426.60" y="364.90" font-size="7.8" fill="#4d4d4d" stroke="#4d4d4d" text-anchor="end" class="tk">0</text>
<text x="426.60" y="349.02" font-size="7.8" fill="#4d4d4d" stroke="#4d4d4d" text-anchor="end" class="tk">5</text>
<text x="426.60" y="333.15" font-size="7.8" fill="#4d4d4d" stroke="#4d4d4d" text-anchor="end" class="tk">10</text>
<text x="426.60" y="317.27" font-size="7.8" fill="#4d4d4d" stroke="#4d4d4d" text-anchor="end" class="tk">15</text>
<text x="435.20" y="370.70" font-size="7.8" fill="#4d4d4d" stroke="#4d4d4d" text-anchor="middle" class="tk">0</text>
<text x="444.28" y="370.70" font-size="7.8" fill="#4d4d4d" stroke="#4d4d4d" text-anchor="middle" class="tk">2</text>
<text x="453.36" y="370.70" font-size="7.8" fill="#4d4d4d" stroke="#4d4d4d" text-anchor="middle" class="tk">4</text>
<text x="462.44" y="370.70" font-size="7.8" fill="#4d4d4d" stroke="#4d4d4d" text-anchor="middle" class="tk">6</text>
<text x="471.52" y="370.70" font-size="7.8" fill="#4d4d4d" stroke="#4d4d4d" text-anchor="middle" class="tk">8</text>
<text x="480.60" y="370.70" font-size="7.8" fill="#4d4d4d" stroke="#4d4d4d" text-anchor="middle" class="tk">10</text>
<text x="489.68" y="370.70" font-size="7.8" fill="#4d4d4d" stroke="#4d4d4d" text-anchor="middle" class="tk">12</text>
<text x="498.76" y="370.70" font-size="7.8" fill="#4d4d4d" stroke="#4d4d4d" text-anchor="middle" class="tk">14</text>
<text x="507.84" y="370.70" font-size="7.8" fill="#4d4d4d" stroke="#4d4d4d" text-anchor="middle" class="tk">16</text>
<text x="516.92" y="370.70" font-size="7.8" fill="#4d4d4d" stroke="#4d4d4d" text-anchor="middle" class="tk">18</text>
<text x="526.00" y="370.70" font-size="7.8" fill="#4d4d4d" stroke="#4d4d4d" text-anchor="middle" class="tk">20</text>
<text x="535.08" y="370.70" font-size="7.8" fill="#4d4d4d" stroke="#4d4d4d" text-anchor="middle" class="tk">22</text>
<text x="486.20" y="381.60" font-size="9.0" fill="#000" stroke="#000" text-anchor="middle" >Time of day</text>
<text x="487.70" y="391.10" font-size="8.8" fill="#1a1a1a" stroke="#1a1a1a" text-anchor="middle" >Other</text>
<line x1="31.06" y1="495.70" x2="141.72" y2="495.70" stroke="#f6f6f6" stroke-width="0.5"/>
<line x1="31.06" y1="477.56" x2="141.72" y2="477.56" stroke="#f6f6f6" stroke-width="0.5"/>
<line x1="31.06" y1="459.41" x2="141.72" y2="459.41" stroke="#f6f6f6" stroke-width="0.5"/>
<line x1="33.80" y1="442.36" x2="33.80" y2="498.24" stroke="#f6f6f6" stroke-width="0.5"/>
<line x1="42.95" y1="442.36" x2="42.95" y2="498.24" stroke="#f6f6f6" stroke-width="0.5"/>
<line x1="52.09" y1="442.36" x2="52.09" y2="498.24" stroke="#f6f6f6" stroke-width="0.5"/>
<line x1="61.24" y1="442.36" x2="61.24" y2="498.24" stroke="#f6f6f6" stroke-width="0.5"/>
<line x1="70.38" y1="442.36" x2="70.38" y2="498.24" stroke="#f6f6f6" stroke-width="0.5"/>
<line x1="79.53" y1="442.36" x2="79.53" y2="498.24" stroke="#f6f6f6" stroke-width="0.5"/>
<line x1="88.68" y1="442.36" x2="88.68" y2="498.24" stroke="#f6f6f6" stroke-width="0.5"/>
<line x1="97.82" y1="442.36" x2="97.82" y2="498.24" stroke="#f6f6f6" stroke-width="0.5"/>
<line x1="106.97" y1="442.36" x2="106.97" y2="498.24" stroke="#f6f6f6" stroke-width="0.5"/>
<line x1="116.11" y1="442.36" x2="116.11" y2="498.24" stroke="#f6f6f6" stroke-width="0.5"/>
<line x1="125.26" y1="442.36" x2="125.26" y2="498.24" stroke="#f6f6f6" stroke-width="0.5"/>
<line x1="134.41" y1="442.36" x2="134.41" y2="498.24" stroke="#f6f6f6" stroke-width="0.5"/>
<rect x="31.74" y="470.30" width="2.06" height="25.40" fill="#000000"/>
<rect x="36.32" y="488.44" width="2.06" height="7.26" fill="#000000"/>
<rect x="40.89" y="477.56" width="2.06" height="18.14" fill="#000000"/>
<rect x="45.46" y="477.56" width="2.06" height="18.14" fill="#000000"/>
<rect x="47.52" y="493.89" width="2.06" height="1.81" fill="#8b0000"/>
<rect x="50.03" y="477.56" width="2.06" height="18.14" fill="#000000"/>
<rect x="52.09" y="493.89" width="2.06" height="1.81" fill="#8b0000"/>
<rect x="54.61" y="490.26" width="2.06" height="5.44" fill="#000000"/>
<rect x="59.18" y="481.19" width="2.06" height="14.51" fill="#000000"/>
<rect x="63.75" y="479.37" width="2.06" height="16.33" fill="#000000"/>
<rect x="68.33" y="479.37" width="2.06" height="16.33" fill="#000000"/>
<rect x="72.90" y="477.56" width="2.06" height="18.14" fill="#000000"/>
<rect x="77.47" y="477.56" width="2.06" height="18.14" fill="#000000"/>
<rect x="82.05" y="488.44" width="2.06" height="7.26" fill="#000000"/>
<rect x="86.62" y="477.56" width="2.06" height="18.14" fill="#000000"/>
<rect x="88.68" y="493.89" width="2.06" height="1.81" fill="#8b0000"/>
<rect x="91.19" y="477.56" width="2.06" height="18.14" fill="#000000"/>
<rect x="95.76" y="477.56" width="2.06" height="18.14" fill="#000000"/>
<rect x="100.34" y="486.63" width="2.06" height="9.07" fill="#000000"/>
<rect x="104.91" y="483.00" width="2.06" height="12.70" fill="#000000"/>
<rect x="109.48" y="470.30" width="2.06" height="25.40" fill="#000000"/>
<rect x="114.06" y="472.11" width="2.06" height="23.59" fill="#000000"/>
<rect x="118.63" y="477.56" width="2.06" height="18.14" fill="#000000"/>
<rect x="123.20" y="461.23" width="2.06" height="34.47" fill="#000000"/>
<rect x="127.78" y="444.90" width="2.06" height="50.80" fill="#000000"/>
<rect x="132.35" y="444.90" width="2.06" height="50.80" fill="#000000"/>
<rect x="136.92" y="457.60" width="2.06" height="38.10" fill="#000000"/>
<text x="25.20" y="498.90" font-size="7.8" fill="#4d4d4d" stroke="#4d4d4d" text-anchor="end" class="tk">0</text>
<text x="25.20" y="480.76" font-size="7.8" fill="#4d4d4d" stroke="#4d4d4d" text-anchor="end" class="tk">10</text>
<text x="25.20" y="462.61" font-size="7.8" fill="#4d4d4d" stroke="#4d4d4d" text-anchor="end" class="tk">20</text>
<text x="33.80" y="504.70" font-size="7.8" fill="#4d4d4d" stroke="#4d4d4d" text-anchor="middle" class="tk">0</text>
<text x="42.95" y="504.70" font-size="7.8" fill="#4d4d4d" stroke="#4d4d4d" text-anchor="middle" class="tk">2</text>
<text x="52.09" y="504.70" font-size="7.8" fill="#4d4d4d" stroke="#4d4d4d" text-anchor="middle" class="tk">4</text>
<text x="61.24" y="504.70" font-size="7.8" fill="#4d4d4d" stroke="#4d4d4d" text-anchor="middle" class="tk">6</text>
<text x="70.38" y="504.70" font-size="7.8" fill="#4d4d4d" stroke="#4d4d4d" text-anchor="middle" class="tk">8</text>
<text x="79.53" y="504.70" font-size="7.8" fill="#4d4d4d" stroke="#4d4d4d" text-anchor="middle" class="tk">10</text>
<text x="88.68" y="504.70" font-size="7.8" fill="#4d4d4d" stroke="#4d4d4d" text-anchor="middle" class="tk">12</text>
<text x="97.82" y="504.70" font-size="7.8" fill="#4d4d4d" stroke="#4d4d4d" text-anchor="middle" class="tk">14</text>
<text x="106.97" y="504.70" font-size="7.8" fill="#4d4d4d" stroke="#4d4d4d" text-anchor="middle" class="tk">16</text>
<text x="116.11" y="504.70" font-size="7.8" fill="#4d4d4d" stroke="#4d4d4d" text-anchor="middle" class="tk">18</text>
<text x="125.26" y="504.70" font-size="7.8" fill="#4d4d4d" stroke="#4d4d4d" text-anchor="middle" class="tk">20</text>
<text x="134.41" y="504.70" font-size="7.8" fill="#4d4d4d" stroke="#4d4d4d" text-anchor="middle" class="tk">22</text>
<text x="85.10" y="515.60" font-size="9.0" fill="#000" stroke="#000" text-anchor="middle" >Time of day</text>
<text x="86.60" y="525.10" font-size="8.8" fill="#1a1a1a" stroke="#1a1a1a" text-anchor="middle" >Industrial zone</text>
<text x="0" y="0" font-size="8.2" fill="#000" stroke="#000" text-anchor="middle" transform="translate(13.90,470.30) rotate(-90)">Frequency</text>
<line x1="165.86" y1="495.70" x2="276.52" y2="495.70" stroke="#f6f6f6" stroke-width="0.5"/>
<line x1="165.86" y1="482.33" x2="276.52" y2="482.33" stroke="#f6f6f6" stroke-width="0.5"/>
<line x1="165.86" y1="468.96" x2="276.52" y2="468.96" stroke="#f6f6f6" stroke-width="0.5"/>
<line x1="165.86" y1="455.59" x2="276.52" y2="455.59" stroke="#f6f6f6" stroke-width="0.5"/>
<line x1="168.60" y1="442.36" x2="168.60" y2="498.24" stroke="#f6f6f6" stroke-width="0.5"/>
<line x1="177.75" y1="442.36" x2="177.75" y2="498.24" stroke="#f6f6f6" stroke-width="0.5"/>
<line x1="186.89" y1="442.36" x2="186.89" y2="498.24" stroke="#f6f6f6" stroke-width="0.5"/>
<line x1="196.04" y1="442.36" x2="196.04" y2="498.24" stroke="#f6f6f6" stroke-width="0.5"/>
<line x1="205.18" y1="442.36" x2="205.18" y2="498.24" stroke="#f6f6f6" stroke-width="0.5"/>
<line x1="214.33" y1="442.36" x2="214.33" y2="498.24" stroke="#f6f6f6" stroke-width="0.5"/>
<line x1="223.48" y1="442.36" x2="223.48" y2="498.24" stroke="#f6f6f6" stroke-width="0.5"/>
<line x1="232.62" y1="442.36" x2="232.62" y2="498.24" stroke="#f6f6f6" stroke-width="0.5"/>
<line x1="241.77" y1="442.36" x2="241.77" y2="498.24" stroke="#f6f6f6" stroke-width="0.5"/>
<line x1="250.91" y1="442.36" x2="250.91" y2="498.24" stroke="#f6f6f6" stroke-width="0.5"/>
<line x1="260.06" y1="442.36" x2="260.06" y2="498.24" stroke="#f6f6f6" stroke-width="0.5"/>
<line x1="269.21" y1="442.36" x2="269.21" y2="498.24" stroke="#f6f6f6" stroke-width="0.5"/>
<rect x="166.54" y="493.03" width="2.06" height="2.67" fill="#000000"/>
<rect x="168.60" y="485.01" width="2.06" height="10.69" fill="#8b0000"/>
<rect x="171.12" y="490.35" width="2.06" height="5.35" fill="#000000"/>
<rect x="173.17" y="493.03" width="2.06" height="2.67" fill="#8b0000"/>
<rect x="175.69" y="493.03" width="2.06" height="2.67" fill="#000000"/>
<rect x="177.75" y="493.03" width="2.06" height="2.67" fill="#8b0000"/>
<rect x="180.26" y="487.68" width="2.06" height="8.02" fill="#000000"/>
<rect x="184.83" y="466.29" width="2.06" height="29.41" fill="#000000"/>
<rect x="186.89" y="490.35" width="2.06" height="5.35" fill="#8b0000"/>
<rect x="189.41" y="482.33" width="2.06" height="13.37" fill="#000000"/>
<rect x="191.47" y="490.35" width="2.06" height="5.35" fill="#8b0000"/>
<rect x="193.98" y="463.62" width="2.06" height="32.08" fill="#000000"/>
<rect x="198.55" y="444.90" width="2.06" height="50.80" fill="#000000"/>
<rect x="203.13" y="452.92" width="2.06" height="42.78" fill="#000000"/>
<rect x="207.70" y="468.96" width="2.06" height="26.74" fill="#000000"/>
<rect x="212.27" y="485.01" width="2.06" height="10.69" fill="#000000"/>
<rect x="216.85" y="482.33" width="2.06" height="13.37" fill="#000000"/>
<rect x="218.90" y="493.03" width="2.06" height="2.67" fill="#8b0000"/>
<rect x="221.42" y="471.64" width="2.06" height="24.06" fill="#000000"/>
<rect x="225.99" y="463.62" width="2.06" height="32.08" fill="#000000"/>
<rect x="230.56" y="474.31" width="2.06" height="21.39" fill="#000000"/>
<rect x="235.14" y="485.01" width="2.06" height="10.69" fill="#000000"/>
<rect x="239.71" y="474.31" width="2.06" height="21.39" fill="#000000"/>
<rect x="244.28" y="455.59" width="2.06" height="40.11" fill="#000000"/>
<rect x="248.86" y="455.59" width="2.06" height="40.11" fill="#000000"/>
<rect x="253.43" y="468.96" width="2.06" height="26.74" fill="#000000"/>
<rect x="258.00" y="485.01" width="2.06" height="10.69" fill="#000000"/>
<rect x="271.72" y="493.03" width="2.06" height="2.67" fill="#000000"/>
<rect x="273.78" y="493.03" width="2.06" height="2.67" fill="#8b0000"/>
<text x="160.00" y="498.90" font-size="7.8" fill="#4d4d4d" stroke="#4d4d4d" text-anchor="end" class="tk">0</text>
<text x="160.00" y="485.53" font-size="7.8" fill="#4d4d4d" stroke="#4d4d4d" text-anchor="end" class="tk">5</text>
<text x="160.00" y="472.16" font-size="7.8" fill="#4d4d4d" stroke="#4d4d4d" text-anchor="end" class="tk">10</text>
<text x="160.00" y="458.79" font-size="7.8" fill="#4d4d4d" stroke="#4d4d4d" text-anchor="end" class="tk">15</text>
<text x="168.60" y="504.70" font-size="7.8" fill="#4d4d4d" stroke="#4d4d4d" text-anchor="middle" class="tk">0</text>
<text x="177.75" y="504.70" font-size="7.8" fill="#4d4d4d" stroke="#4d4d4d" text-anchor="middle" class="tk">2</text>
<text x="186.89" y="504.70" font-size="7.8" fill="#4d4d4d" stroke="#4d4d4d" text-anchor="middle" class="tk">4</text>
<text x="196.04" y="504.70" font-size="7.8" fill="#4d4d4d" stroke="#4d4d4d" text-anchor="middle" class="tk">6</text>
<text x="205.18" y="504.70" font-size="7.8" fill="#4d4d4d" stroke="#4d4d4d" text-anchor="middle" class="tk">8</text>
<text x="214.33" y="504.70" font-size="7.8" fill="#4d4d4d" stroke="#4d4d4d" text-anchor="middle" class="tk">10</text>
<text x="223.48" y="504.70" font-size="7.8" fill="#4d4d4d" stroke="#4d4d4d" text-anchor="middle" class="tk">12</text>
<text x="232.62" y="504.70" font-size="7.8" fill="#4d4d4d" stroke="#4d4d4d" text-anchor="middle" class="tk">14</text>
<text x="241.77" y="504.70" font-size="7.8" fill="#4d4d4d" stroke="#4d4d4d" text-anchor="middle" class="tk">16</text>
<text x="250.91" y="504.70" font-size="7.8" fill="#4d4d4d" stroke="#4d4d4d" text-anchor="middle" class="tk">18</text>
<text x="260.06" y="504.70" font-size="7.8" fill="#4d4d4d" stroke="#4d4d4d" text-anchor="middle" class="tk">20</text>
<text x="269.21" y="504.70" font-size="7.8" fill="#4d4d4d" stroke="#4d4d4d" text-anchor="middle" class="tk">22</text>
<text x="218.80" y="515.60" font-size="9.0" fill="#000" stroke="#000" text-anchor="middle" >Time of day</text>
<text x="220.30" y="525.10" font-size="8.8" fill="#1a1a1a" stroke="#1a1a1a" text-anchor="middle" >Commercial zone</text>
<line x1="301.06" y1="495.70" x2="411.72" y2="495.70" stroke="#f6f6f6" stroke-width="0.5"/>
<line x1="301.06" y1="480.76" x2="411.72" y2="480.76" stroke="#f6f6f6" stroke-width="0.5"/>
<line x1="301.06" y1="465.82" x2="411.72" y2="465.82" stroke="#f6f6f6" stroke-width="0.5"/>
<line x1="301.06" y1="450.88" x2="411.72" y2="450.88" stroke="#f6f6f6" stroke-width="0.5"/>
<line x1="303.80" y1="442.36" x2="303.80" y2="498.24" stroke="#f6f6f6" stroke-width="0.5"/>
<line x1="312.95" y1="442.36" x2="312.95" y2="498.24" stroke="#f6f6f6" stroke-width="0.5"/>
<line x1="322.09" y1="442.36" x2="322.09" y2="498.24" stroke="#f6f6f6" stroke-width="0.5"/>
<line x1="331.24" y1="442.36" x2="331.24" y2="498.24" stroke="#f6f6f6" stroke-width="0.5"/>
<line x1="340.38" y1="442.36" x2="340.38" y2="498.24" stroke="#f6f6f6" stroke-width="0.5"/>
<line x1="349.53" y1="442.36" x2="349.53" y2="498.24" stroke="#f6f6f6" stroke-width="0.5"/>
<line x1="358.68" y1="442.36" x2="358.68" y2="498.24" stroke="#f6f6f6" stroke-width="0.5"/>
<line x1="367.82" y1="442.36" x2="367.82" y2="498.24" stroke="#f6f6f6" stroke-width="0.5"/>
<line x1="376.97" y1="442.36" x2="376.97" y2="498.24" stroke="#f6f6f6" stroke-width="0.5"/>
<line x1="386.11" y1="442.36" x2="386.11" y2="498.24" stroke="#f6f6f6" stroke-width="0.5"/>
<line x1="395.26" y1="442.36" x2="395.26" y2="498.24" stroke="#f6f6f6" stroke-width="0.5"/>
<line x1="404.41" y1="442.36" x2="404.41" y2="498.24" stroke="#f6f6f6" stroke-width="0.5"/>
<rect x="308.37" y="492.71" width="2.06" height="2.99" fill="#8b0000"/>
<rect x="310.89" y="483.75" width="2.06" height="11.95" fill="#000000"/>
<rect x="312.95" y="492.71" width="2.06" height="2.99" fill="#8b0000"/>
<rect x="315.46" y="486.74" width="2.06" height="8.96" fill="#000000"/>
<rect x="320.03" y="462.83" width="2.06" height="32.87" fill="#000000"/>
<rect x="322.09" y="492.71" width="2.06" height="2.99" fill="#8b0000"/>
<rect x="324.61" y="486.74" width="2.06" height="8.96" fill="#000000"/>
<rect x="329.18" y="453.86" width="2.06" height="41.84" fill="#000000"/>
<rect x="333.75" y="462.83" width="2.06" height="32.87" fill="#000000"/>
<rect x="338.33" y="474.78" width="2.06" height="20.92" fill="#000000"/>
<rect x="340.38" y="492.71" width="2.06" height="2.99" fill="#8b0000"/>
<rect x="342.90" y="459.84" width="2.06" height="35.86" fill="#000000"/>
<rect x="347.47" y="480.76" width="2.06" height="14.94" fill="#000000"/>
<rect x="349.53" y="492.71" width="2.06" height="2.99" fill="#8b0000"/>
<rect x="352.05" y="492.71" width="2.06" height="2.99" fill="#000000"/>
<rect x="356.62" y="459.84" width="2.06" height="35.86" fill="#000000"/>
<rect x="361.19" y="444.90" width="2.06" height="50.80" fill="#000000"/>
<rect x="363.25" y="492.71" width="2.06" height="2.99" fill="#8b0000"/>
<rect x="365.76" y="480.76" width="2.06" height="14.94" fill="#000000"/>
<rect x="367.82" y="492.71" width="2.06" height="2.99" fill="#8b0000"/>
<rect x="370.34" y="486.74" width="2.06" height="8.96" fill="#000000"/>
<rect x="374.91" y="477.77" width="2.06" height="17.93" fill="#000000"/>
<rect x="376.97" y="492.71" width="2.06" height="2.99" fill="#8b0000"/>
<rect x="379.48" y="450.88" width="2.06" height="44.82" fill="#000000"/>
<rect x="384.06" y="477.77" width="2.06" height="17.93" fill="#000000"/>
<rect x="388.63" y="480.76" width="2.06" height="14.94" fill="#000000"/>
<rect x="393.20" y="492.71" width="2.06" height="2.99" fill="#000000"/>
<rect x="402.35" y="492.71" width="2.06" height="2.99" fill="#000000"/>
<rect x="406.92" y="492.71" width="2.06" height="2.99" fill="#000000"/>
<text x="295.20" y="498.90" font-size="7.8" fill="#4d4d4d" stroke="#4d4d4d" text-anchor="end" class="tk">0</text>
<text x="295.20" y="483.96" font-size="7.8" fill="#4d4d4d" stroke="#4d4d4d" text-anchor="end" class="tk">5</text>
<text x="295.20" y="469.02" font-size="7.8" fill="#4d4d4d" stroke="#4d4d4d" text-anchor="end" class="tk">10</text>
<text x="295.20" y="454.08" font-size="7.8" fill="#4d4d4d" stroke="#4d4d4d" text-anchor="end" class="tk">15</text>
<text x="303.80" y="504.70" font-size="7.8" fill="#4d4d4d" stroke="#4d4d4d" text-anchor="middle" class="tk">0</text>
<text x="312.95" y="504.70" font-size="7.8" fill="#4d4d4d" stroke="#4d4d4d" text-anchor="middle" class="tk">2</text>
<text x="322.09" y="504.70" font-size="7.8" fill="#4d4d4d" stroke="#4d4d4d" text-anchor="middle" class="tk">4</text>
<text x="331.24" y="504.70" font-size="7.8" fill="#4d4d4d" stroke="#4d4d4d" text-anchor="middle" class="tk">6</text>
<text x="340.38" y="504.70" font-size="7.8" fill="#4d4d4d" stroke="#4d4d4d" text-anchor="middle" class="tk">8</text>
<text x="349.53" y="504.70" font-size="7.8" fill="#4d4d4d" stroke="#4d4d4d" text-anchor="middle" class="tk">10</text>
<text x="358.68" y="504.70" font-size="7.8" fill="#4d4d4d" stroke="#4d4d4d" text-anchor="middle" class="tk">12</text>
<text x="367.82" y="504.70" font-size="7.8" fill="#4d4d4d" stroke="#4d4d4d" text-anchor="middle" class="tk">14</text>
<text x="376.97" y="504.70" font-size="7.8" fill="#4d4d4d" stroke="#4d4d4d" text-anchor="middle" class="tk">16</text>
<text x="386.11" y="504.70" font-size="7.8" fill="#4d4d4d" stroke="#4d4d4d" text-anchor="middle" class="tk">18</text>
<text x="395.26" y="504.70" font-size="7.8" fill="#4d4d4d" stroke="#4d4d4d" text-anchor="middle" class="tk">20</text>
<text x="404.41" y="504.70" font-size="7.8" fill="#4d4d4d" stroke="#4d4d4d" text-anchor="middle" class="tk">22</text>
<text x="352.50" y="515.60" font-size="9.0" fill="#000" stroke="#000" text-anchor="middle" >Time of day</text>
<text x="354.00" y="525.10" font-size="8.8" fill="#1a1a1a" stroke="#1a1a1a" text-anchor="middle" >Residential zone</text>
<line x1="431.16" y1="495.70" x2="541.82" y2="495.70" stroke="#f6f6f6" stroke-width="0.5"/>
<line x1="431.16" y1="481.85" x2="541.82" y2="481.85" stroke="#f6f6f6" stroke-width="0.5"/>
<line x1="431.16" y1="467.99" x2="541.82" y2="467.99" stroke="#f6f6f6" stroke-width="0.5"/>
<line x1="431.16" y1="454.14" x2="541.82" y2="454.14" stroke="#f6f6f6" stroke-width="0.5"/>
<line x1="433.90" y1="442.36" x2="433.90" y2="498.24" stroke="#f6f6f6" stroke-width="0.5"/>
<line x1="443.05" y1="442.36" x2="443.05" y2="498.24" stroke="#f6f6f6" stroke-width="0.5"/>
<line x1="452.19" y1="442.36" x2="452.19" y2="498.24" stroke="#f6f6f6" stroke-width="0.5"/>
<line x1="461.34" y1="442.36" x2="461.34" y2="498.24" stroke="#f6f6f6" stroke-width="0.5"/>
<line x1="470.48" y1="442.36" x2="470.48" y2="498.24" stroke="#f6f6f6" stroke-width="0.5"/>
<line x1="479.63" y1="442.36" x2="479.63" y2="498.24" stroke="#f6f6f6" stroke-width="0.5"/>
<line x1="488.78" y1="442.36" x2="488.78" y2="498.24" stroke="#f6f6f6" stroke-width="0.5"/>
<line x1="497.92" y1="442.36" x2="497.92" y2="498.24" stroke="#f6f6f6" stroke-width="0.5"/>
<line x1="507.07" y1="442.36" x2="507.07" y2="498.24" stroke="#f6f6f6" stroke-width="0.5"/>
<line x1="516.21" y1="442.36" x2="516.21" y2="498.24" stroke="#f6f6f6" stroke-width="0.5"/>
<line x1="525.36" y1="442.36" x2="525.36" y2="498.24" stroke="#f6f6f6" stroke-width="0.5"/>
<line x1="534.51" y1="442.36" x2="534.51" y2="498.24" stroke="#f6f6f6" stroke-width="0.5"/>
<rect x="431.84" y="491.08" width="2.06" height="4.62" fill="#000000"/>
<rect x="436.42" y="477.23" width="2.06" height="18.47" fill="#000000"/>
<rect x="440.99" y="472.61" width="2.06" height="23.09" fill="#000000"/>
<rect x="445.56" y="491.08" width="2.06" height="4.62" fill="#000000"/>
<rect x="450.13" y="472.61" width="2.06" height="23.09" fill="#000000"/>
<rect x="454.71" y="486.46" width="2.06" height="9.24" fill="#000000"/>
<rect x="459.28" y="472.61" width="2.06" height="23.09" fill="#000000"/>
<rect x="463.85" y="444.90" width="2.06" height="50.80" fill="#000000"/>
<rect x="468.43" y="463.37" width="2.06" height="32.33" fill="#000000"/>
<rect x="473.00" y="458.75" width="2.06" height="36.95" fill="#000000"/>
<rect x="477.57" y="486.46" width="2.06" height="9.24" fill="#000000"/>
<rect x="482.15" y="491.08" width="2.06" height="4.62" fill="#000000"/>
<rect x="486.72" y="467.99" width="2.06" height="27.71" fill="#000000"/>
<rect x="491.29" y="458.75" width="2.06" height="36.95" fill="#000000"/>
<rect x="495.86" y="444.90" width="2.06" height="50.80" fill="#000000"/>
<rect x="500.44" y="481.85" width="2.06" height="13.85" fill="#000000"/>
<rect x="505.01" y="477.23" width="2.06" height="18.47" fill="#000000"/>
<rect x="509.58" y="467.99" width="2.06" height="27.71" fill="#000000"/>
<rect x="514.16" y="477.23" width="2.06" height="18.47" fill="#000000"/>
<rect x="518.73" y="491.08" width="2.06" height="4.62" fill="#000000"/>
<rect x="523.30" y="491.08" width="2.06" height="4.62" fill="#000000"/>
<rect x="527.88" y="467.99" width="2.06" height="27.71" fill="#000000"/>
<rect x="532.45" y="449.52" width="2.06" height="46.18" fill="#000000"/>
<rect x="537.02" y="477.23" width="2.06" height="18.47" fill="#000000"/>
<text x="425.30" y="498.90" font-size="7.8" fill="#4d4d4d" stroke="#4d4d4d" text-anchor="end" class="tk">0</text>
<text x="425.30" y="485.05" font-size="7.8" fill="#4d4d4d" stroke="#4d4d4d" text-anchor="end" class="tk">3</text>
<text x="425.30" y="471.19" font-size="7.8" fill="#4d4d4d" stroke="#4d4d4d" text-anchor="end" class="tk">6</text>
<text x="425.30" y="457.34" font-size="7.8" fill="#4d4d4d" stroke="#4d4d4d" text-anchor="end" class="tk">9</text>
<text x="433.90" y="504.70" font-size="7.8" fill="#4d4d4d" stroke="#4d4d4d" text-anchor="middle" class="tk">0</text>
<text x="443.05" y="504.70" font-size="7.8" fill="#4d4d4d" stroke="#4d4d4d" text-anchor="middle" class="tk">2</text>
<text x="452.19" y="504.70" font-size="7.8" fill="#4d4d4d" stroke="#4d4d4d" text-anchor="middle" class="tk">4</text>
<text x="461.34" y="504.70" font-size="7.8" fill="#4d4d4d" stroke="#4d4d4d" text-anchor="middle" class="tk">6</text>
<text x="470.48" y="504.70" font-size="7.8" fill="#4d4d4d" stroke="#4d4d4d" text-anchor="middle" class="tk">8</text>
<text x="479.63" y="504.70" font-size="7.8" fill="#4d4d4d" stroke="#4d4d4d" text-anchor="middle" class="tk">10</text>
<text x="488.78" y="504.70" font-size="7.8" fill="#4d4d4d" stroke="#4d4d4d" text-anchor="middle" class="tk">12</text>
<text x="497.92" y="504.70" font-size="7.8" fill="#4d4d4d" stroke="#4d4d4d" text-anchor="middle" class="tk">14</text>
<text x="507.07" y="504.70" font-size="7.8" fill="#4d4d4d" stroke="#4d4d4d" text-anchor="middle" class="tk">16</text>
<text x="516.21" y="504.70" font-size="7.8" fill="#4d4d4d" stroke="#4d4d4d" text-anchor="middle" class="tk">18</text>
<text x="525.36" y="504.70" font-size="7.8" fill="#4d4d4d" stroke="#4d4d4d" text-anchor="middle" class="tk">20</text>
<text x="534.51" y="504.70" font-size="7.8" fill="#4d4d4d" stroke="#4d4d4d" text-anchor="middle" class="tk">22</text>
<text x="486.20" y="515.60" font-size="9.0" fill="#000" stroke="#000" text-anchor="middle" >Time of day</text>
<text x="487.70" y="525.10" font-size="8.8" fill="#1a1a1a" stroke="#1a1a1a" text-anchor="middle" >Other</text>
<line x1="31.09" y1="627.70" x2="140.42" y2="627.70" stroke="#f6f6f6" stroke-width="0.5"/>
<line x1="31.09" y1="611.95" x2="140.42" y2="611.95" stroke="#f6f6f6" stroke-width="0.5"/>
<line x1="31.09" y1="596.19" x2="140.42" y2="596.19" stroke="#f6f6f6" stroke-width="0.5"/>
<line x1="31.09" y1="580.44" x2="140.42" y2="580.44" stroke="#f6f6f6" stroke-width="0.5"/>
<line x1="33.80" y1="573.94" x2="33.80" y2="630.26" stroke="#f6f6f6" stroke-width="0.5"/>
<line x1="42.84" y1="573.94" x2="42.84" y2="630.26" stroke="#f6f6f6" stroke-width="0.5"/>
<line x1="51.87" y1="573.94" x2="51.87" y2="630.26" stroke="#f6f6f6" stroke-width="0.5"/>
<line x1="60.91" y1="573.94" x2="60.91" y2="630.26" stroke="#f6f6f6" stroke-width="0.5"/>
<line x1="69.94" y1="573.94" x2="69.94" y2="630.26" stroke="#f6f6f6" stroke-width="0.5"/>
<line x1="78.98" y1="573.94" x2="78.98" y2="630.26" stroke="#f6f6f6" stroke-width="0.5"/>
<line x1="88.02" y1="573.94" x2="88.02" y2="630.26" stroke="#f6f6f6" stroke-width="0.5"/>
<line x1="97.05" y1="573.94" x2="97.05" y2="630.26" stroke="#f6f6f6" stroke-width="0.5"/>
<line x1="106.09" y1="573.94" x2="106.09" y2="630.26" stroke="#f6f6f6" stroke-width="0.5"/>
<line x1="115.12" y1="573.94" x2="115.12" y2="630.26" stroke="#f6f6f6" stroke-width="0.5"/>
<line x1="124.16" y1="573.94" x2="124.16" y2="630.26" stroke="#f6f6f6" stroke-width="0.5"/>
<line x1="133.20" y1="573.94" x2="133.20" y2="630.26" stroke="#f6f6f6" stroke-width="0.5"/>
<rect x="31.77" y="626.91" width="2.03" height="0.79" fill="#000000"/>
<rect x="38.32" y="626.91" width="2.03" height="0.79" fill="#8b0000"/>
<rect x="40.80" y="622.19" width="2.03" height="5.51" fill="#000000"/>
<rect x="45.32" y="626.12" width="2.03" height="1.58" fill="#000000"/>
<rect x="49.84" y="621.40" width="2.03" height="6.30" fill="#000000"/>
<rect x="54.36" y="624.55" width="2.03" height="3.15" fill="#000000"/>
<rect x="58.87" y="611.16" width="2.03" height="16.54" fill="#000000"/>
<rect x="60.91" y="626.91" width="2.03" height="0.79" fill="#8b0000"/>
<rect x="63.39" y="613.52" width="2.03" height="14.18" fill="#000000"/>
<rect x="65.43" y="626.12" width="2.03" height="1.58" fill="#8b0000"/>
<rect x="67.91" y="589.89" width="2.03" height="37.81" fill="#000000"/>
<rect x="69.94" y="626.12" width="2.03" height="1.58" fill="#8b0000"/>
<rect x="72.43" y="578.08" width="2.03" height="49.62" fill="#000000"/>
<rect x="74.46" y="622.19" width="2.03" height="5.51" fill="#8b0000"/>
<rect x="76.95" y="576.50" width="2.03" height="51.20" fill="#000000"/>
<rect x="78.98" y="626.12" width="2.03" height="1.58" fill="#8b0000"/>
<rect x="81.46" y="593.83" width="2.03" height="33.87" fill="#000000"/>
<rect x="83.50" y="624.55" width="2.03" height="3.15" fill="#8b0000"/>
<rect x="85.98" y="597.77" width="2.03" height="29.93" fill="#000000"/>
<rect x="88.02" y="626.91" width="2.03" height="0.79" fill="#8b0000"/>
<rect x="90.50" y="580.44" width="2.03" height="47.26" fill="#000000"/>
<rect x="92.53" y="622.19" width="2.03" height="5.51" fill="#8b0000"/>
<rect x="95.02" y="582.01" width="2.03" height="45.69" fill="#000000"/>
<rect x="97.05" y="624.55" width="2.03" height="3.15" fill="#8b0000"/>
<rect x="99.54" y="588.32" width="2.03" height="39.38" fill="#000000"/>
<rect x="101.57" y="625.34" width="2.03" height="2.36" fill="#8b0000"/>
<rect x="104.05" y="593.83" width="2.03" height="33.87" fill="#000000"/>
<rect x="106.09" y="626.12" width="2.03" height="1.58" fill="#8b0000"/>
<rect x="108.57" y="611.95" width="2.03" height="15.75" fill="#000000"/>
<rect x="113.09" y="619.04" width="2.03" height="8.66" fill="#000000"/>
<rect x="117.61" y="625.34" width="2.03" height="2.36" fill="#000000"/>
<rect x="122.13" y="621.40" width="2.03" height="6.30" fill="#000000"/>
<rect x="126.64" y="622.97" width="2.03" height="4.73" fill="#000000"/>
<rect x="131.16" y="624.55" width="2.03" height="3.15" fill="#000000"/>
<rect x="135.68" y="625.34" width="2.03" height="2.36" fill="#000000"/>
<text x="25.20" y="630.90" font-size="7.8" fill="#4d4d4d" stroke="#4d4d4d" text-anchor="end" class="tk">0</text>
<text x="25.20" y="615.15" font-size="7.8" fill="#4d4d4d" stroke="#4d4d4d" text-anchor="end" class="tk">20</text>
<text x="25.20" y="599.39" font-size="7.8" fill="#4d4d4d" stroke="#4d4d4d" text-anchor="end" class="tk">40</text>
<text x="25.20" y="583.64" font-size="7.8" fill="#4d4d4d" stroke="#4d4d4d" text-anchor="end" class="tk">60</text>
<text x="33.80" y="636.70" font-size="7.8" fill="#4d4d4d" stroke="#4d4d4d" text-anchor="middle" class="tk">0</text>
<text x="42.84" y="636.70" font-size="7.8" fill="#4d4d4d" stroke="#4d4d4d" text-anchor="middle" class="tk">2</text>
<text x="51.87" y="636.70" font-size="7.8" fill="#4d4d4d" stroke="#4d4d4d" text-anchor="middle" class="tk">4</text>
<text x="60.91" y="636.70" font-size="7.8" fill="#4d4d4d" stroke="#4d4d4d" text-anchor="middle" class="tk">6</text>
<text x="69.94" y="636.70" font-size="7.8" fill="#4d4d4d" stroke="#4d4d4d" text-anchor="middle" class="tk">8</text>
<text x="78.98" y="636.70" font-size="7.8" fill="#4d4d4d" stroke="#4d4d4d" text-anchor="middle" class="tk">10</text>
<text x="88.02" y="636.70" font-size="7.8" fill="#4d4d4d" stroke="#4d4d4d" text-anchor="middle" class="tk">12</text>
<text x="97.05" y="636.70" font-size="7.8" fill="#4d4d4d" stroke="#4d4d4d" text-anchor="middle" class="tk">14</text>
<text x="106.09" y="636.70" font-size="7.8" fill="#4d4d4d" stroke="#4d4d4d" text-anchor="middle" class="tk">16</text>
<text x="115.12" y="636.70" font-size="7.8" fill="#4d4d4d" stroke="#4d4d4d" text-anchor="middle" class="tk">18</text>
<text x="124.16" y="636.70" font-size="7.8" fill="#4d4d4d" stroke="#4d4d4d" text-anchor="middle" class="tk">20</text>
<text x="133.20" y="636.70" font-size="7.8" fill="#4d4d4d" stroke="#4d4d4d" text-anchor="middle" class="tk">22</text>
<text x="85.10" y="647.60" font-size="9.0" fill="#000" stroke="#000" text-anchor="middle" >Time of day</text>
<text x="86.60" y="657.10" font-size="8.8" fill="#1a1a1a" stroke="#1a1a1a" text-anchor="middle" >Industrial zone</text>
<text x="0" y="0" font-size="8.2" fill="#000" stroke="#000" text-anchor="middle" transform="translate(13.90,602.10) rotate(-90)">Frequency</text>
<line x1="159.49" y1="627.70" x2="268.82" y2="627.70" stroke="#f6f6f6" stroke-width="0.5"/>
<line x1="159.49" y1="614.90" x2="268.82" y2="614.90" stroke="#f6f6f6" stroke-width="0.5"/>
<line x1="159.49" y1="602.10" x2="268.82" y2="602.10" stroke="#f6f6f6" stroke-width="0.5"/>
<line x1="159.49" y1="589.30" x2="268.82" y2="589.30" stroke="#f6f6f6" stroke-width="0.5"/>
<line x1="159.49" y1="576.50" x2="268.82" y2="576.50" stroke="#f6f6f6" stroke-width="0.5"/>
<line x1="162.20" y1="573.94" x2="162.20" y2="630.26" stroke="#f6f6f6" stroke-width="0.5"/>
<line x1="171.24" y1="573.94" x2="171.24" y2="630.26" stroke="#f6f6f6" stroke-width="0.5"/>
<line x1="180.27" y1="573.94" x2="180.27" y2="630.26" stroke="#f6f6f6" stroke-width="0.5"/>
<line x1="189.31" y1="573.94" x2="189.31" y2="630.26" stroke="#f6f6f6" stroke-width="0.5"/>
<line x1="198.34" y1="573.94" x2="198.34" y2="630.26" stroke="#f6f6f6" stroke-width="0.5"/>
<line x1="207.38" y1="573.94" x2="207.38" y2="630.26" stroke="#f6f6f6" stroke-width="0.5"/>
<line x1="216.42" y1="573.94" x2="216.42" y2="630.26" stroke="#f6f6f6" stroke-width="0.5"/>
<line x1="225.45" y1="573.94" x2="225.45" y2="630.26" stroke="#f6f6f6" stroke-width="0.5"/>
<line x1="234.49" y1="573.94" x2="234.49" y2="630.26" stroke="#f6f6f6" stroke-width="0.5"/>
<line x1="243.52" y1="573.94" x2="243.52" y2="630.26" stroke="#f6f6f6" stroke-width="0.5"/>
<line x1="252.56" y1="573.94" x2="252.56" y2="630.26" stroke="#f6f6f6" stroke-width="0.5"/>
<line x1="261.60" y1="573.94" x2="261.60" y2="630.26" stroke="#f6f6f6" stroke-width="0.5"/>
<rect x="160.17" y="621.30" width="2.03" height="6.40" fill="#000000"/>
<rect x="164.68" y="621.30" width="2.03" height="6.40" fill="#000000"/>
<rect x="169.20" y="621.30" width="2.03" height="6.40" fill="#000000"/>
<rect x="180.27" y="621.30" width="2.03" height="6.40" fill="#8b0000"/>
<rect x="189.31" y="621.30" width="2.03" height="6.40" fill="#8b0000"/>
<rect x="191.79" y="621.30" width="2.03" height="6.40" fill="#000000"/>
<rect x="193.83" y="614.90" width="2.03" height="12.80" fill="#8b0000"/>
<rect x="196.31" y="608.50" width="2.03" height="19.20" fill="#000000"/>
<rect x="198.34" y="608.50" width="2.03" height="19.20" fill="#8b0000"/>
<rect x="200.83" y="608.50" width="2.03" height="19.20" fill="#000000"/>
<rect x="202.86" y="589.30" width="2.03" height="38.40" fill="#8b0000"/>
<rect x="205.35" y="621.30" width="2.03" height="6.40" fill="#000000"/>
<rect x="207.38" y="576.50" width="2.03" height="51.20" fill="#8b0000"/>
<rect x="209.86" y="621.30" width="2.03" height="6.40" fill="#000000"/>
<rect x="211.90" y="582.90" width="2.03" height="44.80" fill="#8b0000"/>
<rect x="214.38" y="621.30" width="2.03" height="6.40" fill="#000000"/>
<rect x="216.42" y="614.90" width="2.03" height="12.80" fill="#8b0000"/>
<rect x="218.90" y="589.30" width="2.03" height="38.40" fill="#000000"/>
<rect x="220.93" y="576.50" width="2.03" height="51.20" fill="#8b0000"/>
<rect x="223.42" y="608.50" width="2.03" height="19.20" fill="#000000"/>
<rect x="225.45" y="614.90" width="2.03" height="12.80" fill="#8b0000"/>
<rect x="227.94" y="614.90" width="2.03" height="12.80" fill="#000000"/>
<rect x="229.97" y="608.50" width="2.03" height="19.20" fill="#8b0000"/>
<rect x="232.45" y="602.10" width="2.03" height="25.60" fill="#000000"/>
<rect x="234.49" y="589.30" width="2.03" height="38.40" fill="#8b0000"/>
<rect x="236.97" y="614.90" width="2.03" height="12.80" fill="#000000"/>
<rect x="239.01" y="621.30" width="2.03" height="6.40" fill="#8b0000"/>
<rect x="248.04" y="621.30" width="2.03" height="6.40" fill="#8b0000"/>
<rect x="250.53" y="614.90" width="2.03" height="12.80" fill="#000000"/>
<rect x="255.04" y="621.30" width="2.03" height="6.40" fill="#000000"/>
<rect x="257.08" y="621.30" width="2.03" height="6.40" fill="#8b0000"/>
<rect x="264.08" y="621.30" width="2.03" height="6.40" fill="#000000"/>
<rect x="266.11" y="621.30" width="2.03" height="6.40" fill="#8b0000"/>
<text x="153.60" y="630.90" font-size="7.8" fill="#4d4d4d" stroke="#4d4d4d" text-anchor="end" class="tk">0</text>
<text x="153.60" y="618.10" font-size="7.8" fill="#4d4d4d" stroke="#4d4d4d" text-anchor="end" class="tk">2</text>
<text x="153.60" y="605.30" font-size="7.8" fill="#4d4d4d" stroke="#4d4d4d" text-anchor="end" class="tk">4</text>
<text x="153.60" y="592.50" font-size="7.8" fill="#4d4d4d" stroke="#4d4d4d" text-anchor="end" class="tk">6</text>
<text x="153.60" y="579.70" font-size="7.8" fill="#4d4d4d" stroke="#4d4d4d" text-anchor="end" class="tk">8</text>
<text x="162.20" y="636.70" font-size="7.8" fill="#4d4d4d" stroke="#4d4d4d" text-anchor="middle" class="tk">0</text>
<text x="171.24" y="636.70" font-size="7.8" fill="#4d4d4d" stroke="#4d4d4d" text-anchor="middle" class="tk">2</text>
<text x="180.27" y="636.70" font-size="7.8" fill="#4d4d4d" stroke="#4d4d4d" text-anchor="middle" class="tk">4</text>
<text x="189.31" y="636.70" font-size="7.8" fill="#4d4d4d" stroke="#4d4d4d" text-anchor="middle" class="tk">6</text>
<text x="198.34" y="636.70" font-size="7.8" fill="#4d4d4d" stroke="#4d4d4d" text-anchor="middle" class="tk">8</text>
<text x="207.38" y="636.70" font-size="7.8" fill="#4d4d4d" stroke="#4d4d4d" text-anchor="middle" class="tk">10</text>
<text x="216.42" y="636.70" font-size="7.8" fill="#4d4d4d" stroke="#4d4d4d" text-anchor="middle" class="tk">12</text>
<text x="225.45" y="636.70" font-size="7.8" fill="#4d4d4d" stroke="#4d4d4d" text-anchor="middle" class="tk">14</text>
<text x="234.49" y="636.70" font-size="7.8" fill="#4d4d4d" stroke="#4d4d4d" text-anchor="middle" class="tk">16</text>
<text x="243.52" y="636.70" font-size="7.8" fill="#4d4d4d" stroke="#4d4d4d" text-anchor="middle" class="tk">18</text>
<text x="252.56" y="636.70" font-size="7.8" fill="#4d4d4d" stroke="#4d4d4d" text-anchor="middle" class="tk">20</text>
<text x="261.60" y="636.70" font-size="7.8" fill="#4d4d4d" stroke="#4d4d4d" text-anchor="middle" class="tk">22</text>
<text x="218.80" y="647.60" font-size="9.0" fill="#000" stroke="#000" text-anchor="middle" >Time of day</text>
<text x="220.30" y="657.10" font-size="8.8" fill="#1a1a1a" stroke="#1a1a1a" text-anchor="middle" >Commercial zone</text>
<line x1="299.99" y1="627.70" x2="409.32" y2="627.70" stroke="#f6f6f6" stroke-width="0.5"/>
<line x1="299.99" y1="617.03" x2="409.32" y2="617.03" stroke="#f6f6f6" stroke-width="0.5"/>
<line x1="299.99" y1="606.37" x2="409.32" y2="606.37" stroke="#f6f6f6" stroke-width="0.5"/>
<line x1="299.99" y1="595.70" x2="409.32" y2="595.70" stroke="#f6f6f6" stroke-width="0.5"/>
<line x1="299.99" y1="585.03" x2="409.32" y2="585.03" stroke="#f6f6f6" stroke-width="0.5"/>
<line x1="299.99" y1="574.37" x2="409.32" y2="574.37" stroke="#f6f6f6" stroke-width="0.5"/>
<line x1="302.70" y1="573.94" x2="302.70" y2="630.26" stroke="#f6f6f6" stroke-width="0.5"/>
<line x1="311.74" y1="573.94" x2="311.74" y2="630.26" stroke="#f6f6f6" stroke-width="0.5"/>
<line x1="320.77" y1="573.94" x2="320.77" y2="630.26" stroke="#f6f6f6" stroke-width="0.5"/>
<line x1="329.81" y1="573.94" x2="329.81" y2="630.26" stroke="#f6f6f6" stroke-width="0.5"/>
<line x1="338.84" y1="573.94" x2="338.84" y2="630.26" stroke="#f6f6f6" stroke-width="0.5"/>
<line x1="347.88" y1="573.94" x2="347.88" y2="630.26" stroke="#f6f6f6" stroke-width="0.5"/>
<line x1="356.92" y1="573.94" x2="356.92" y2="630.26" stroke="#f6f6f6" stroke-width="0.5"/>
<line x1="365.95" y1="573.94" x2="365.95" y2="630.26" stroke="#f6f6f6" stroke-width="0.5"/>
<line x1="374.99" y1="573.94" x2="374.99" y2="630.26" stroke="#f6f6f6" stroke-width="0.5"/>
<line x1="384.02" y1="573.94" x2="384.02" y2="630.26" stroke="#f6f6f6" stroke-width="0.5"/>
<line x1="393.06" y1="573.94" x2="393.06" y2="630.26" stroke="#f6f6f6" stroke-width="0.5"/>
<line x1="402.10" y1="573.94" x2="402.10" y2="630.26" stroke="#f6f6f6" stroke-width="0.5"/>
<rect x="309.70" y="623.43" width="2.03" height="4.27" fill="#000000"/>
<rect x="311.74" y="623.43" width="2.03" height="4.27" fill="#8b0000"/>
<rect x="318.74" y="614.90" width="2.03" height="12.80" fill="#000000"/>
<rect x="320.77" y="623.43" width="2.03" height="4.27" fill="#8b0000"/>
<rect x="325.29" y="619.17" width="2.03" height="8.53" fill="#8b0000"/>
<rect x="327.77" y="623.43" width="2.03" height="4.27" fill="#000000"/>
<rect x="329.81" y="614.90" width="2.03" height="12.80" fill="#8b0000"/>
<rect x="332.29" y="606.37" width="2.03" height="21.33" fill="#000000"/>
<rect x="334.33" y="614.90" width="2.03" height="12.80" fill="#8b0000"/>
<rect x="336.81" y="610.63" width="2.03" height="17.07" fill="#000000"/>
<rect x="338.84" y="606.37" width="2.03" height="21.33" fill="#8b0000"/>
<rect x="341.33" y="606.37" width="2.03" height="21.33" fill="#000000"/>
<rect x="343.36" y="602.10" width="2.03" height="25.60" fill="#8b0000"/>
<rect x="345.85" y="602.10" width="2.03" height="25.60" fill="#000000"/>
<rect x="347.88" y="576.50" width="2.03" height="51.20" fill="#8b0000"/>
<rect x="350.36" y="614.90" width="2.03" height="12.80" fill="#000000"/>
<rect x="352.40" y="602.10" width="2.03" height="25.60" fill="#8b0000"/>
<rect x="354.88" y="597.83" width="2.03" height="29.87" fill="#000000"/>
<rect x="356.92" y="614.90" width="2.03" height="12.80" fill="#8b0000"/>
<rect x="359.40" y="614.90" width="2.03" height="12.80" fill="#000000"/>
<rect x="361.43" y="614.90" width="2.03" height="12.80" fill="#8b0000"/>
<rect x="363.92" y="606.37" width="2.03" height="21.33" fill="#000000"/>
<rect x="365.95" y="606.37" width="2.03" height="21.33" fill="#8b0000"/>
<rect x="368.44" y="610.63" width="2.03" height="17.07" fill="#000000"/>
<rect x="370.47" y="597.83" width="2.03" height="29.87" fill="#8b0000"/>
<rect x="372.95" y="619.17" width="2.03" height="8.53" fill="#000000"/>
<rect x="374.99" y="610.63" width="2.03" height="17.07" fill="#8b0000"/>
<rect x="395.54" y="623.43" width="2.03" height="4.27" fill="#000000"/>
<rect x="402.10" y="623.43" width="2.03" height="4.27" fill="#8b0000"/>
<rect x="406.61" y="623.43" width="2.03" height="4.27" fill="#8b0000"/>
<text x="294.10" y="630.90" font-size="7.8" fill="#4d4d4d" stroke="#4d4d4d" text-anchor="end" class="tk">0.0</text>
<text x="294.10" y="620.23" font-size="7.8" fill="#4d4d4d" stroke="#4d4d4d" text-anchor="end" class="tk">2.5</text>
<text x="294.10" y="609.57" font-size="7.8" fill="#4d4d4d" stroke="#4d4d4d" text-anchor="end" class="tk">5.0</text>
<text x="294.10" y="598.90" font-size="7.8" fill="#4d4d4d" stroke="#4d4d4d" text-anchor="end" class="tk">7.5</text>
<text x="294.10" y="588.23" font-size="7.8" fill="#4d4d4d" stroke="#4d4d4d" text-anchor="end" class="tk">10.0</text>
<text x="294.10" y="577.57" font-size="7.8" fill="#4d4d4d" stroke="#4d4d4d" text-anchor="end" class="tk">12.5</text>
<text x="302.70" y="636.70" font-size="7.8" fill="#4d4d4d" stroke="#4d4d4d" text-anchor="middle" class="tk">0</text>
<text x="311.74" y="636.70" font-size="7.8" fill="#4d4d4d" stroke="#4d4d4d" text-anchor="middle" class="tk">2</text>
<text x="320.77" y="636.70" font-size="7.8" fill="#4d4d4d" stroke="#4d4d4d" text-anchor="middle" class="tk">4</text>
<text x="329.81" y="636.70" font-size="7.8" fill="#4d4d4d" stroke="#4d4d4d" text-anchor="middle" class="tk">6</text>
<text x="338.84" y="636.70" font-size="7.8" fill="#4d4d4d" stroke="#4d4d4d" text-anchor="middle" class="tk">8</text>
<text x="347.88" y="636.70" font-size="7.8" fill="#4d4d4d" stroke="#4d4d4d" text-anchor="middle" class="tk">10</text>
<text x="356.92" y="636.70" font-size="7.8" fill="#4d4d4d" stroke="#4d4d4d" text-anchor="middle" class="tk">12</text>
<text x="365.95" y="636.70" font-size="7.8" fill="#4d4d4d" stroke="#4d4d4d" text-anchor="middle" class="tk">14</text>
<text x="374.99" y="636.70" font-size="7.8" fill="#4d4d4d" stroke="#4d4d4d" text-anchor="middle" class="tk">16</text>
<text x="384.02" y="636.70" font-size="7.8" fill="#4d4d4d" stroke="#4d4d4d" text-anchor="middle" class="tk">18</text>
<text x="393.06" y="636.70" font-size="7.8" fill="#4d4d4d" stroke="#4d4d4d" text-anchor="middle" class="tk">20</text>
<text x="402.10" y="636.70" font-size="7.8" fill="#4d4d4d" stroke="#4d4d4d" text-anchor="middle" class="tk">22</text>
<text x="352.50" y="647.60" font-size="9.0" fill="#000" stroke="#000" text-anchor="middle" >Time of day</text>
<text x="354.00" y="657.10" font-size="8.8" fill="#1a1a1a" stroke="#1a1a1a" text-anchor="middle" >Residential zone</text>
<line x1="433.19" y1="627.70" x2="542.52" y2="627.70" stroke="#f6f6f6" stroke-width="0.5"/>
<line x1="433.19" y1="608.74" x2="542.52" y2="608.74" stroke="#f6f6f6" stroke-width="0.5"/>
<line x1="433.19" y1="589.77" x2="542.52" y2="589.77" stroke="#f6f6f6" stroke-width="0.5"/>
<line x1="435.90" y1="573.94" x2="435.90" y2="630.26" stroke="#f6f6f6" stroke-width="0.5"/>
<line x1="444.94" y1="573.94" x2="444.94" y2="630.26" stroke="#f6f6f6" stroke-width="0.5"/>
<line x1="453.97" y1="573.94" x2="453.97" y2="630.26" stroke="#f6f6f6" stroke-width="0.5"/>
<line x1="463.01" y1="573.94" x2="463.01" y2="630.26" stroke="#f6f6f6" stroke-width="0.5"/>
<line x1="472.04" y1="573.94" x2="472.04" y2="630.26" stroke="#f6f6f6" stroke-width="0.5"/>
<line x1="481.08" y1="573.94" x2="481.08" y2="630.26" stroke="#f6f6f6" stroke-width="0.5"/>
<line x1="490.12" y1="573.94" x2="490.12" y2="630.26" stroke="#f6f6f6" stroke-width="0.5"/>
<line x1="499.15" y1="573.94" x2="499.15" y2="630.26" stroke="#f6f6f6" stroke-width="0.5"/>
<line x1="508.19" y1="573.94" x2="508.19" y2="630.26" stroke="#f6f6f6" stroke-width="0.5"/>
<line x1="517.22" y1="573.94" x2="517.22" y2="630.26" stroke="#f6f6f6" stroke-width="0.5"/>
<line x1="526.26" y1="573.94" x2="526.26" y2="630.26" stroke="#f6f6f6" stroke-width="0.5"/>
<line x1="535.30" y1="573.94" x2="535.30" y2="630.26" stroke="#f6f6f6" stroke-width="0.5"/>
<rect x="433.87" y="623.91" width="2.03" height="3.79" fill="#000000"/>
<rect x="435.90" y="625.80" width="2.03" height="1.90" fill="#8b0000"/>
<rect x="447.42" y="623.91" width="2.03" height="3.79" fill="#000000"/>
<rect x="449.45" y="625.80" width="2.03" height="1.90" fill="#8b0000"/>
<rect x="451.94" y="620.11" width="2.03" height="7.59" fill="#000000"/>
<rect x="456.46" y="622.01" width="2.03" height="5.69" fill="#000000"/>
<rect x="460.97" y="614.43" width="2.03" height="13.27" fill="#000000"/>
<rect x="465.49" y="614.43" width="2.03" height="13.27" fill="#000000"/>
<rect x="470.01" y="601.15" width="2.03" height="26.55" fill="#000000"/>
<rect x="472.04" y="620.11" width="2.03" height="7.59" fill="#8b0000"/>
<rect x="474.53" y="576.50" width="2.03" height="51.20" fill="#000000"/>
<rect x="476.56" y="625.80" width="2.03" height="1.90" fill="#8b0000"/>
<rect x="479.05" y="582.19" width="2.03" height="45.51" fill="#000000"/>
<rect x="481.08" y="623.91" width="2.03" height="3.79" fill="#8b0000"/>
<rect x="483.56" y="593.57" width="2.03" height="34.13" fill="#000000"/>
<rect x="485.60" y="625.80" width="2.03" height="1.90" fill="#8b0000"/>
<rect x="488.08" y="580.29" width="2.03" height="47.41" fill="#000000"/>
<rect x="490.12" y="623.91" width="2.03" height="3.79" fill="#8b0000"/>
<rect x="492.60" y="608.74" width="2.03" height="18.96" fill="#000000"/>
<rect x="494.63" y="622.01" width="2.03" height="5.69" fill="#8b0000"/>
<rect x="497.12" y="593.57" width="2.03" height="34.13" fill="#000000"/>
<rect x="499.15" y="623.91" width="2.03" height="3.79" fill="#8b0000"/>
<rect x="501.64" y="584.09" width="2.03" height="43.61" fill="#000000"/>
<rect x="503.67" y="625.80" width="2.03" height="1.90" fill="#8b0000"/>
<rect x="506.15" y="610.63" width="2.03" height="17.07" fill="#000000"/>
<rect x="508.19" y="625.80" width="2.03" height="1.90" fill="#8b0000"/>
<rect x="510.67" y="612.53" width="2.03" height="15.17" fill="#000000"/>
<rect x="515.19" y="622.01" width="2.03" height="5.69" fill="#000000"/>
<rect x="519.71" y="620.11" width="2.03" height="7.59" fill="#000000"/>
<rect x="521.74" y="625.80" width="2.03" height="1.90" fill="#8b0000"/>
<rect x="524.23" y="622.01" width="2.03" height="5.69" fill="#000000"/>
<rect x="528.74" y="625.80" width="2.03" height="1.90" fill="#000000"/>
<rect x="533.26" y="625.80" width="2.03" height="1.90" fill="#000000"/>
<rect x="537.78" y="623.91" width="2.03" height="3.79" fill="#000000"/>
<text x="427.30" y="630.90" font-size="7.8" fill="#4d4d4d" stroke="#4d4d4d" text-anchor="end" class="tk">0</text>
<text x="427.30" y="611.94" font-size="7.8" fill="#4d4d4d" stroke="#4d4d4d" text-anchor="end" class="tk">10</text>
<text x="427.30" y="592.97" font-size="7.8" fill="#4d4d4d" stroke="#4d4d4d" text-anchor="end" class="tk">20</text>
<text x="435.90" y="636.70" font-size="7.8" fill="#4d4d4d" stroke="#4d4d4d" text-anchor="middle" class="tk">0</text>
<text x="444.94" y="636.70" font-size="7.8" fill="#4d4d4d" stroke="#4d4d4d" text-anchor="middle" class="tk">2</text>
<text x="453.97" y="636.70" font-size="7.8" fill="#4d4d4d" stroke="#4d4d4d" text-anchor="middle" class="tk">4</text>
<text x="463.01" y="636.70" font-size="7.8" fill="#4d4d4d" stroke="#4d4d4d" text-anchor="middle" class="tk">6</text>
<text x="472.04" y="636.70" font-size="7.8" fill="#4d4d4d" stroke="#4d4d4d" text-anchor="middle" class="tk">8</text>
<text x="481.08" y="636.70" font-size="7.8" fill="#4d4d4d" stroke="#4d4d4d" text-anchor="middle" class="tk">10</text>
<text x="490.12" y="636.70" font-size="7.8" fill="#4d4d4d" stroke="#4d4d4d" text-anchor="middle" class="tk">12</text>
<text x="499.15" y="636.70" font-size="7.8" fill="#4d4d4d" stroke="#4d4d4d" text-anchor="middle" class="tk">14</text>
<text x="508.19" y="636.70" font-size="7.8" fill="#4d4d4d" stroke="#4d4d4d" text-anchor="middle" class="tk">16</text>
<text x="517.22" y="636.70" font-size="7.8" fill="#4d4d4d" stroke="#4d4d4d" text-anchor="middle" class="tk">18</text>
<text x="526.26" y="636.70" font-size="7.8" fill="#4d4d4d" stroke="#4d4d4d" text-anchor="middle" class="tk">20</text>
<text x="535.30" y="636.70" font-size="7.8" fill="#4d4d4d" stroke="#4d4d4d" text-anchor="middle" class="tk">22</text>
<text x="486.20" y="647.60" font-size="9.0" fill="#000" stroke="#000" text-anchor="middle" >Time of day</text>
<text x="487.70" y="657.10" font-size="8.8" fill="#1a1a1a" stroke="#1a1a1a" text-anchor="middle" >Other</text>
<text x="15.5" y="142.70" font-size="9.6" letter-spacing="-0.2" font-weight="bold" fill="#000" stroke="#000"><tspan word-spacing="-0.8">Food products</tspan><tspan dx="1.2" word-spacing="0.4">(n = 2703)</tspan></text>
<text x="15.5" y="273.90" font-size="9.6" letter-spacing="-0.2" font-weight="bold" fill="#000" stroke="#000"><tspan word-spacing="-0.8">Agricultural products</tspan><tspan dx="1.8" word-spacing="0.4">(n = 857)</tspan></text>
<text x="15.5" y="404.80" font-size="9.6" letter-spacing="-0.2" font-weight="bold" fill="#000" stroke="#000"><tspan word-spacing="-0.8">Daily product</tspan><tspan dx="1.2" word-spacing="0.4">(n = 851)</tspan></text>
<text x="15.5" y="538.80" font-size="9.6" letter-spacing="-0.2" font-weight="bold" fill="#000" stroke="#000"><tspan word-spacing="-0.8">Parcels</tspan><tspan dx="1.6" word-spacing="0.4">(n = 757)</tspan></text>
<text x="15.5" y="670.80" font-size="9.6" letter-spacing="-0.2" font-weight="bold" fill="#000" stroke="#000"><tspan word-spacing="-0.8">Heavy industrial products</tspan><tspan dx="1.2" word-spacing="0.4">(n = 1061)</tspan></text>
<text x="440.00" y="10.00" font-size="9.7" fill="#000" stroke="#000" >Receiver</text>
<rect x="440" y="16" width="3.6" height="8.5" fill="#8b0000"/>
<rect x="440" y="25" width="3.6" height="8.5" fill="#000000"/>
<text x="449.00" y="24.20" font-size="9.7" fill="#000" stroke="#000" >End receiver</text>
<text x="449.00" y="33.30" font-size="9.7" fill="#000" stroke="#000" >Non-end receiver</text>
</svg></body></html>
